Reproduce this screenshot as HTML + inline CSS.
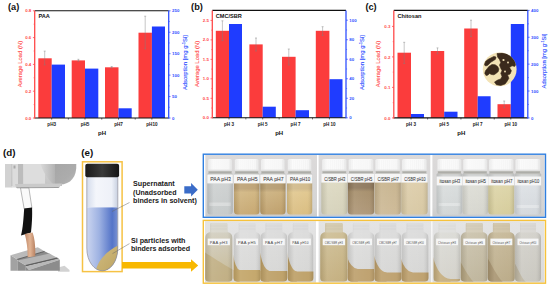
<!DOCTYPE html><html><head><meta charset="utf-8"><style>html,body{margin:0;padding:0;background:#fff;overflow:hidden}svg{display:block}</style></head><body>
<svg width="550" height="288" viewBox="0 0 550 288">
<rect width="550" height="288" fill="#fff"/>
<rect x="38.30" y="58.30" width="13.40" height="59.70" fill="#fb3c3c" />
<rect x="51.70" y="64.60" width="13.30" height="53.40" fill="#1f3cff" />
<rect x="71.70" y="60.40" width="13.30" height="57.60" fill="#fb3c3c" />
<rect x="85.00" y="68.60" width="13.30" height="49.40" fill="#1f3cff" />
<rect x="105.00" y="67.30" width="13.50" height="50.70" fill="#fb3c3c" />
<rect x="118.50" y="108.30" width="13.20" height="9.70" fill="#1f3cff" />
<rect x="138.50" y="32.70" width="13.40" height="85.30" fill="#fb3c3c" />
<rect x="151.90" y="26.50" width="13.10" height="91.50" fill="#1f3cff" />
<line x1="44.70" y1="51.10" x2="44.70" y2="64.90" stroke="#808080" stroke-width="0.45"/>
<line x1="43.70" y1="51.10" x2="45.70" y2="51.10" stroke="#808080" stroke-width="0.45"/>
<line x1="43.70" y1="64.90" x2="45.70" y2="64.90" stroke="#808080" stroke-width="0.45"/>
<line x1="78.40" y1="59.30" x2="78.40" y2="61.30" stroke="#808080" stroke-width="0.45"/>
<line x1="77.40" y1="59.30" x2="79.40" y2="59.30" stroke="#808080" stroke-width="0.45"/>
<line x1="77.40" y1="61.30" x2="79.40" y2="61.30" stroke="#808080" stroke-width="0.45"/>
<line x1="111.70" y1="66.50" x2="111.70" y2="68.00" stroke="#808080" stroke-width="0.45"/>
<line x1="110.70" y1="66.50" x2="112.70" y2="66.50" stroke="#808080" stroke-width="0.45"/>
<line x1="110.70" y1="68.00" x2="112.70" y2="68.00" stroke="#808080" stroke-width="0.45"/>
<line x1="145.20" y1="16.20" x2="145.20" y2="48.80" stroke="#808080" stroke-width="0.45"/>
<line x1="144.20" y1="16.20" x2="146.20" y2="16.20" stroke="#808080" stroke-width="0.45"/>
<line x1="144.20" y1="48.80" x2="146.20" y2="48.80" stroke="#808080" stroke-width="0.45"/>
<line x1="34.7" y1="10.8" x2="168.7" y2="10.8" stroke="#111" stroke-width="1.1"/>
<line x1="34.7" y1="118" x2="168.7" y2="118" stroke="#111" stroke-width="1.1"/>
<line x1="34.7" y1="10.8" x2="34.7" y2="118.5" stroke="#ff4a4a" stroke-width="1.3"/>
<line x1="168.7" y1="10.8" x2="168.7" y2="118.5" stroke="#3050ff" stroke-width="1.3"/>
<line x1="32.900000000000006" y1="118.00" x2="34.7" y2="118.00" stroke="#ff4a4a" stroke-width="0.8"/>
<text x="31.30" y="119.60" font-family="Liberation Sans, sans-serif" font-size="4.4" fill="#ff4a4a" text-anchor="end" font-weight="bold" >0.0</text>
<line x1="32.900000000000006" y1="91.20" x2="34.7" y2="91.20" stroke="#ff4a4a" stroke-width="0.8"/>
<text x="31.30" y="92.80" font-family="Liberation Sans, sans-serif" font-size="4.4" fill="#ff4a4a" text-anchor="end" font-weight="bold" >0.2</text>
<line x1="32.900000000000006" y1="64.40" x2="34.7" y2="64.40" stroke="#ff4a4a" stroke-width="0.8"/>
<text x="31.30" y="66.00" font-family="Liberation Sans, sans-serif" font-size="4.4" fill="#ff4a4a" text-anchor="end" font-weight="bold" >0.4</text>
<line x1="32.900000000000006" y1="37.60" x2="34.7" y2="37.60" stroke="#ff4a4a" stroke-width="0.8"/>
<text x="31.30" y="39.20" font-family="Liberation Sans, sans-serif" font-size="4.4" fill="#ff4a4a" text-anchor="end" font-weight="bold" >0.6</text>
<line x1="32.900000000000006" y1="10.80" x2="34.7" y2="10.80" stroke="#ff4a4a" stroke-width="0.8"/>
<text x="31.30" y="12.40" font-family="Liberation Sans, sans-serif" font-size="4.4" fill="#ff4a4a" text-anchor="end" font-weight="bold" >0.8</text>
<line x1="33.6" y1="104.60" x2="34.7" y2="104.60" stroke="#ff4a4a" stroke-width="0.6"/>
<line x1="33.6" y1="77.80" x2="34.7" y2="77.80" stroke="#ff4a4a" stroke-width="0.6"/>
<line x1="33.6" y1="51.00" x2="34.7" y2="51.00" stroke="#ff4a4a" stroke-width="0.6"/>
<line x1="33.6" y1="24.20" x2="34.7" y2="24.20" stroke="#ff4a4a" stroke-width="0.6"/>
<line x1="168.7" y1="107.28" x2="169.79999999999998" y2="107.28" stroke="#3050ff" stroke-width="0.6"/>
<line x1="168.7" y1="85.84" x2="169.79999999999998" y2="85.84" stroke="#3050ff" stroke-width="0.6"/>
<line x1="168.7" y1="64.40" x2="169.79999999999998" y2="64.40" stroke="#3050ff" stroke-width="0.6"/>
<line x1="168.7" y1="42.96" x2="169.79999999999998" y2="42.96" stroke="#3050ff" stroke-width="0.6"/>
<line x1="168.7" y1="21.52" x2="169.79999999999998" y2="21.52" stroke="#3050ff" stroke-width="0.6"/>
<line x1="168.7" y1="118.00" x2="170.5" y2="118.00" stroke="#3050ff" stroke-width="0.8"/>
<text x="172.00" y="119.60" font-family="Liberation Sans, sans-serif" font-size="4.4" fill="#3050ff" text-anchor="start" font-weight="bold" >0</text>
<line x1="168.7" y1="96.56" x2="170.5" y2="96.56" stroke="#3050ff" stroke-width="0.8"/>
<text x="172.00" y="98.16" font-family="Liberation Sans, sans-serif" font-size="4.4" fill="#3050ff" text-anchor="start" font-weight="bold" >50</text>
<line x1="168.7" y1="75.12" x2="170.5" y2="75.12" stroke="#3050ff" stroke-width="0.8"/>
<text x="172.00" y="76.72" font-family="Liberation Sans, sans-serif" font-size="4.4" fill="#3050ff" text-anchor="start" font-weight="bold" >100</text>
<line x1="168.7" y1="53.68" x2="170.5" y2="53.68" stroke="#3050ff" stroke-width="0.8"/>
<text x="172.00" y="55.28" font-family="Liberation Sans, sans-serif" font-size="4.4" fill="#3050ff" text-anchor="start" font-weight="bold" >150</text>
<line x1="168.7" y1="32.24" x2="170.5" y2="32.24" stroke="#3050ff" stroke-width="0.8"/>
<text x="172.00" y="33.84" font-family="Liberation Sans, sans-serif" font-size="4.4" fill="#3050ff" text-anchor="start" font-weight="bold" >200</text>
<line x1="168.7" y1="10.80" x2="170.5" y2="10.80" stroke="#3050ff" stroke-width="0.8"/>
<text x="172.00" y="12.40" font-family="Liberation Sans, sans-serif" font-size="4.4" fill="#3050ff" text-anchor="start" font-weight="bold" >250</text>
<line x1="51.70" y1="118" x2="51.70" y2="119.6" stroke="#111" stroke-width="0.6"/>
<line x1="85.00" y1="118" x2="85.00" y2="119.6" stroke="#111" stroke-width="0.6"/>
<line x1="118.50" y1="118" x2="118.50" y2="119.6" stroke="#111" stroke-width="0.6"/>
<line x1="151.90" y1="118" x2="151.90" y2="119.6" stroke="#111" stroke-width="0.6"/>
<text x="51.70" y="125.50" font-family="Liberation Sans, sans-serif" font-size="4.6" fill="#222" text-anchor="middle" font-weight="bold" >pH3</text>
<text x="85.00" y="125.50" font-family="Liberation Sans, sans-serif" font-size="4.6" fill="#222" text-anchor="middle" font-weight="bold" >pH5</text>
<text x="118.50" y="125.50" font-family="Liberation Sans, sans-serif" font-size="4.6" fill="#222" text-anchor="middle" font-weight="bold" >pH7</text>
<text x="151.90" y="125.50" font-family="Liberation Sans, sans-serif" font-size="4.6" fill="#222" text-anchor="middle" font-weight="bold" >pH10</text>
<line x1="68.35" y1="118" x2="68.35" y2="119.6" stroke="#111" stroke-width="0.6"/>
<line x1="101.75" y1="118" x2="101.75" y2="119.6" stroke="#111" stroke-width="0.6"/>
<line x1="135.20" y1="118" x2="135.20" y2="119.6" stroke="#111" stroke-width="0.6"/>
<text x="38.50" y="18.30" font-family="Liberation Sans, sans-serif" font-size="5.6" fill="#111" text-anchor="start" font-weight="bold" >PAA</text>
<text x="22.30" y="64.10" font-family="Liberation Sans, sans-serif" font-size="5.9" fill="#ff4a4a" text-anchor="middle" font-weight="normal" stroke="#ff4a4a" stroke-width="0.12" transform="rotate(-90 22.3 64.1)">Average Load (N)</text>
<text x="186.60" y="62.60" font-family="Liberation Sans, sans-serif" font-size="5.9" fill="#3050ff" text-anchor="middle" font-weight="normal" stroke="#3050ff" stroke-width="0.12" transform="rotate(-90 186.6 62.6)">Adsorption [mg g<tspan dy="-1.8" font-size="4">-1</tspan><tspan dy="1.8">Si]</tspan></text>
<text x="98.00" y="135.40" font-family="Liberation Sans, sans-serif" font-size="6.0" fill="#111" text-anchor="start" font-weight="bold" >pH</text>
<text x="8.00" y="9.50" font-family="Liberation Sans, sans-serif" font-size="9.2" fill="#111" text-anchor="start" font-weight="bold" >(a)</text>
<rect x="215.80" y="30.80" width="13.20" height="87.00" fill="#fb3c3c" />
<rect x="229.00" y="24.00" width="13.00" height="93.80" fill="#1f3cff" />
<rect x="249.40" y="44.40" width="13.30" height="73.40" fill="#fb3c3c" />
<rect x="262.70" y="106.70" width="13.10" height="11.10" fill="#1f3cff" />
<rect x="282.00" y="56.80" width="13.60" height="61.00" fill="#fb3c3c" />
<rect x="295.60" y="110.20" width="13.40" height="7.60" fill="#1f3cff" />
<rect x="315.80" y="30.80" width="13.60" height="87.00" fill="#fb3c3c" />
<rect x="329.40" y="79.20" width="13.10" height="38.60" fill="#1f3cff" />
<line x1="222.40" y1="20.80" x2="222.40" y2="40.60" stroke="#808080" stroke-width="0.45"/>
<line x1="221.40" y1="20.80" x2="223.40" y2="20.80" stroke="#808080" stroke-width="0.45"/>
<line x1="221.40" y1="40.60" x2="223.40" y2="40.60" stroke="#808080" stroke-width="0.45"/>
<line x1="256.00" y1="38.00" x2="256.00" y2="51.00" stroke="#808080" stroke-width="0.45"/>
<line x1="255.00" y1="38.00" x2="257.00" y2="38.00" stroke="#808080" stroke-width="0.45"/>
<line x1="255.00" y1="51.00" x2="257.00" y2="51.00" stroke="#808080" stroke-width="0.45"/>
<line x1="288.80" y1="49.00" x2="288.80" y2="65.00" stroke="#808080" stroke-width="0.45"/>
<line x1="287.80" y1="49.00" x2="289.80" y2="49.00" stroke="#808080" stroke-width="0.45"/>
<line x1="287.80" y1="65.00" x2="289.80" y2="65.00" stroke="#808080" stroke-width="0.45"/>
<line x1="322.60" y1="26.70" x2="322.60" y2="35.40" stroke="#808080" stroke-width="0.45"/>
<line x1="321.60" y1="26.70" x2="323.60" y2="26.70" stroke="#808080" stroke-width="0.45"/>
<line x1="321.60" y1="35.40" x2="323.60" y2="35.40" stroke="#808080" stroke-width="0.45"/>
<line x1="212.3" y1="10.4" x2="346" y2="10.4" stroke="#111" stroke-width="1.1"/>
<line x1="212.3" y1="117.8" x2="346" y2="117.8" stroke="#111" stroke-width="1.1"/>
<line x1="212.3" y1="10.4" x2="212.3" y2="118.3" stroke="#ff4a4a" stroke-width="1.3"/>
<line x1="346" y1="10.4" x2="346" y2="118.3" stroke="#3050ff" stroke-width="1.3"/>
<line x1="210.5" y1="117.80" x2="212.3" y2="117.80" stroke="#ff4a4a" stroke-width="0.8"/>
<text x="208.90" y="119.40" font-family="Liberation Sans, sans-serif" font-size="4.4" fill="#ff4a4a" text-anchor="end" font-weight="bold" >0.0</text>
<line x1="210.5" y1="98.32" x2="212.3" y2="98.32" stroke="#ff4a4a" stroke-width="0.8"/>
<text x="208.90" y="99.92" font-family="Liberation Sans, sans-serif" font-size="4.4" fill="#ff4a4a" text-anchor="end" font-weight="bold" >0.5</text>
<line x1="210.5" y1="78.84" x2="212.3" y2="78.84" stroke="#ff4a4a" stroke-width="0.8"/>
<text x="208.90" y="80.44" font-family="Liberation Sans, sans-serif" font-size="4.4" fill="#ff4a4a" text-anchor="end" font-weight="bold" >1.0</text>
<line x1="210.5" y1="59.36" x2="212.3" y2="59.36" stroke="#ff4a4a" stroke-width="0.8"/>
<text x="208.90" y="60.96" font-family="Liberation Sans, sans-serif" font-size="4.4" fill="#ff4a4a" text-anchor="end" font-weight="bold" >1.5</text>
<line x1="210.5" y1="39.88" x2="212.3" y2="39.88" stroke="#ff4a4a" stroke-width="0.8"/>
<text x="208.90" y="41.48" font-family="Liberation Sans, sans-serif" font-size="4.4" fill="#ff4a4a" text-anchor="end" font-weight="bold" >2.0</text>
<line x1="210.5" y1="20.40" x2="212.3" y2="20.40" stroke="#ff4a4a" stroke-width="0.8"/>
<text x="208.90" y="22.00" font-family="Liberation Sans, sans-serif" font-size="4.4" fill="#ff4a4a" text-anchor="end" font-weight="bold" >2.5</text>
<line x1="211.20000000000002" y1="108.06" x2="212.3" y2="108.06" stroke="#ff4a4a" stroke-width="0.6"/>
<line x1="211.20000000000002" y1="88.58" x2="212.3" y2="88.58" stroke="#ff4a4a" stroke-width="0.6"/>
<line x1="211.20000000000002" y1="69.10" x2="212.3" y2="69.10" stroke="#ff4a4a" stroke-width="0.6"/>
<line x1="211.20000000000002" y1="49.62" x2="212.3" y2="49.62" stroke="#ff4a4a" stroke-width="0.6"/>
<line x1="211.20000000000002" y1="30.14" x2="212.3" y2="30.14" stroke="#ff4a4a" stroke-width="0.6"/>
<line x1="346" y1="108.04" x2="347.1" y2="108.04" stroke="#3050ff" stroke-width="0.6"/>
<line x1="346" y1="88.52" x2="347.1" y2="88.52" stroke="#3050ff" stroke-width="0.6"/>
<line x1="346" y1="69.00" x2="347.1" y2="69.00" stroke="#3050ff" stroke-width="0.6"/>
<line x1="346" y1="49.48" x2="347.1" y2="49.48" stroke="#3050ff" stroke-width="0.6"/>
<line x1="346" y1="29.96" x2="347.1" y2="29.96" stroke="#3050ff" stroke-width="0.6"/>
<line x1="346" y1="117.80" x2="347.8" y2="117.80" stroke="#3050ff" stroke-width="0.8"/>
<text x="349.30" y="119.40" font-family="Liberation Sans, sans-serif" font-size="4.4" fill="#3050ff" text-anchor="start" font-weight="bold" >0</text>
<line x1="346" y1="98.28" x2="347.8" y2="98.28" stroke="#3050ff" stroke-width="0.8"/>
<text x="349.30" y="99.88" font-family="Liberation Sans, sans-serif" font-size="4.4" fill="#3050ff" text-anchor="start" font-weight="bold" >20</text>
<line x1="346" y1="78.76" x2="347.8" y2="78.76" stroke="#3050ff" stroke-width="0.8"/>
<text x="349.30" y="80.36" font-family="Liberation Sans, sans-serif" font-size="4.4" fill="#3050ff" text-anchor="start" font-weight="bold" >40</text>
<line x1="346" y1="59.24" x2="347.8" y2="59.24" stroke="#3050ff" stroke-width="0.8"/>
<text x="349.30" y="60.84" font-family="Liberation Sans, sans-serif" font-size="4.4" fill="#3050ff" text-anchor="start" font-weight="bold" >60</text>
<line x1="346" y1="39.72" x2="347.8" y2="39.72" stroke="#3050ff" stroke-width="0.8"/>
<text x="349.30" y="41.32" font-family="Liberation Sans, sans-serif" font-size="4.4" fill="#3050ff" text-anchor="start" font-weight="bold" >80</text>
<line x1="346" y1="20.20" x2="347.8" y2="20.20" stroke="#3050ff" stroke-width="0.8"/>
<text x="349.30" y="21.80" font-family="Liberation Sans, sans-serif" font-size="4.4" fill="#3050ff" text-anchor="start" font-weight="bold" >100</text>
<line x1="229.00" y1="117.8" x2="229.00" y2="119.39999999999999" stroke="#111" stroke-width="0.6"/>
<line x1="262.70" y1="117.8" x2="262.70" y2="119.39999999999999" stroke="#111" stroke-width="0.6"/>
<line x1="295.60" y1="117.8" x2="295.60" y2="119.39999999999999" stroke="#111" stroke-width="0.6"/>
<line x1="329.40" y1="117.8" x2="329.40" y2="119.39999999999999" stroke="#111" stroke-width="0.6"/>
<text x="229.00" y="125.50" font-family="Liberation Sans, sans-serif" font-size="4.6" fill="#222" text-anchor="middle" font-weight="bold" >pH 3</text>
<text x="262.70" y="125.50" font-family="Liberation Sans, sans-serif" font-size="4.6" fill="#222" text-anchor="middle" font-weight="bold" >pH 5</text>
<text x="295.60" y="125.50" font-family="Liberation Sans, sans-serif" font-size="4.6" fill="#222" text-anchor="middle" font-weight="bold" >pH 7</text>
<text x="329.40" y="125.50" font-family="Liberation Sans, sans-serif" font-size="4.6" fill="#222" text-anchor="middle" font-weight="bold" >pH 10</text>
<line x1="245.85" y1="117.8" x2="245.85" y2="119.39999999999999" stroke="#111" stroke-width="0.6"/>
<line x1="279.15" y1="117.8" x2="279.15" y2="119.39999999999999" stroke="#111" stroke-width="0.6"/>
<line x1="312.50" y1="117.8" x2="312.50" y2="119.39999999999999" stroke="#111" stroke-width="0.6"/>
<text x="215.80" y="18.30" font-family="Liberation Sans, sans-serif" font-size="5.6" fill="#111" text-anchor="start" font-weight="bold" >CMC/SBR</text>
<text x="199.30" y="63.90" font-family="Liberation Sans, sans-serif" font-size="5.9" fill="#ff4a4a" text-anchor="middle" font-weight="normal" stroke="#ff4a4a" stroke-width="0.12" transform="rotate(-90 199.3 63.9)">Average Load (N)</text>
<text x="363.80" y="62.60" font-family="Liberation Sans, sans-serif" font-size="5.9" fill="#3050ff" text-anchor="middle" font-weight="normal" stroke="#3050ff" stroke-width="0.12" transform="rotate(-90 363.8 62.6)">Adsorption [mg g<tspan dy="-1.8" font-size="4">-1</tspan><tspan dy="1.8">Si]</tspan></text>
<text x="275.20" y="135.40" font-family="Liberation Sans, sans-serif" font-size="6.0" fill="#111" text-anchor="start" font-weight="bold" >pH</text>
<text x="191.10" y="9.50" font-family="Liberation Sans, sans-serif" font-size="9.2" fill="#111" text-anchor="start" font-weight="bold" >(b)</text>
<rect x="397.50" y="52.70" width="13.50" height="65.20" fill="#fb3c3c" />
<rect x="411.00" y="114.00" width="13.00" height="3.90" fill="#1f3cff" />
<rect x="430.80" y="51.00" width="13.40" height="66.90" fill="#fb3c3c" />
<rect x="444.20" y="111.70" width="13.30" height="6.20" fill="#1f3cff" />
<rect x="464.20" y="28.50" width="13.50" height="89.40" fill="#fb3c3c" />
<rect x="477.70" y="96.25" width="12.90" height="21.65" fill="#1f3cff" />
<rect x="497.50" y="104.20" width="13.30" height="13.70" fill="#fb3c3c" />
<rect x="510.80" y="24.00" width="13.40" height="93.90" fill="#1f3cff" />
<line x1="404.20" y1="42.30" x2="404.20" y2="63.50" stroke="#808080" stroke-width="0.45"/>
<line x1="403.20" y1="42.30" x2="405.20" y2="42.30" stroke="#808080" stroke-width="0.45"/>
<line x1="403.20" y1="63.50" x2="405.20" y2="63.50" stroke="#808080" stroke-width="0.45"/>
<line x1="437.50" y1="47.90" x2="437.50" y2="53.75" stroke="#808080" stroke-width="0.45"/>
<line x1="436.50" y1="47.90" x2="438.50" y2="47.90" stroke="#808080" stroke-width="0.45"/>
<line x1="436.50" y1="53.75" x2="438.50" y2="53.75" stroke="#808080" stroke-width="0.45"/>
<line x1="471.00" y1="20.20" x2="471.00" y2="36.50" stroke="#808080" stroke-width="0.45"/>
<line x1="470.00" y1="20.20" x2="472.00" y2="20.20" stroke="#808080" stroke-width="0.45"/>
<line x1="470.00" y1="36.50" x2="472.00" y2="36.50" stroke="#808080" stroke-width="0.45"/>
<line x1="504.20" y1="101.00" x2="504.20" y2="107.70" stroke="#808080" stroke-width="0.45"/>
<line x1="503.20" y1="101.00" x2="505.20" y2="101.00" stroke="#808080" stroke-width="0.45"/>
<line x1="503.20" y1="107.70" x2="505.20" y2="107.70" stroke="#808080" stroke-width="0.45"/>
<line x1="393.8" y1="10.4" x2="527.8" y2="10.4" stroke="#111" stroke-width="1.1"/>
<line x1="393.8" y1="117.9" x2="527.8" y2="117.9" stroke="#111" stroke-width="1.1"/>
<line x1="393.8" y1="10.4" x2="393.8" y2="118.4" stroke="#ff4a4a" stroke-width="1.3"/>
<line x1="527.8" y1="10.4" x2="527.8" y2="118.4" stroke="#3050ff" stroke-width="1.3"/>
<line x1="392.0" y1="117.90" x2="393.8" y2="117.90" stroke="#ff4a4a" stroke-width="0.8"/>
<text x="390.40" y="119.50" font-family="Liberation Sans, sans-serif" font-size="4.4" fill="#ff4a4a" text-anchor="end" font-weight="bold" >0.0</text>
<line x1="392.0" y1="87.40" x2="393.8" y2="87.40" stroke="#ff4a4a" stroke-width="0.8"/>
<text x="390.40" y="89.00" font-family="Liberation Sans, sans-serif" font-size="4.4" fill="#ff4a4a" text-anchor="end" font-weight="bold" >0.1</text>
<line x1="392.0" y1="56.90" x2="393.8" y2="56.90" stroke="#ff4a4a" stroke-width="0.8"/>
<text x="390.40" y="58.50" font-family="Liberation Sans, sans-serif" font-size="4.4" fill="#ff4a4a" text-anchor="end" font-weight="bold" >0.2</text>
<line x1="392.0" y1="26.40" x2="393.8" y2="26.40" stroke="#ff4a4a" stroke-width="0.8"/>
<text x="390.40" y="28.00" font-family="Liberation Sans, sans-serif" font-size="4.4" fill="#ff4a4a" text-anchor="end" font-weight="bold" >0.3</text>
<line x1="392.7" y1="102.65" x2="393.8" y2="102.65" stroke="#ff4a4a" stroke-width="0.6"/>
<line x1="392.7" y1="72.15" x2="393.8" y2="72.15" stroke="#ff4a4a" stroke-width="0.6"/>
<line x1="392.7" y1="41.65" x2="393.8" y2="41.65" stroke="#ff4a4a" stroke-width="0.6"/>
<line x1="527.8" y1="104.46" x2="528.9" y2="104.46" stroke="#3050ff" stroke-width="0.6"/>
<line x1="527.8" y1="77.59" x2="528.9" y2="77.59" stroke="#3050ff" stroke-width="0.6"/>
<line x1="527.8" y1="50.71" x2="528.9" y2="50.71" stroke="#3050ff" stroke-width="0.6"/>
<line x1="527.8" y1="23.84" x2="528.9" y2="23.84" stroke="#3050ff" stroke-width="0.6"/>
<line x1="527.8" y1="117.90" x2="529.5999999999999" y2="117.90" stroke="#3050ff" stroke-width="0.8"/>
<text x="531.10" y="119.50" font-family="Liberation Sans, sans-serif" font-size="4.4" fill="#3050ff" text-anchor="start" font-weight="bold" >0</text>
<line x1="527.8" y1="91.03" x2="529.5999999999999" y2="91.03" stroke="#3050ff" stroke-width="0.8"/>
<text x="531.10" y="92.62" font-family="Liberation Sans, sans-serif" font-size="4.4" fill="#3050ff" text-anchor="start" font-weight="bold" >100</text>
<line x1="527.8" y1="64.15" x2="529.5999999999999" y2="64.15" stroke="#3050ff" stroke-width="0.8"/>
<text x="531.10" y="65.75" font-family="Liberation Sans, sans-serif" font-size="4.4" fill="#3050ff" text-anchor="start" font-weight="bold" >200</text>
<line x1="527.8" y1="37.28" x2="529.5999999999999" y2="37.28" stroke="#3050ff" stroke-width="0.8"/>
<text x="531.10" y="38.88" font-family="Liberation Sans, sans-serif" font-size="4.4" fill="#3050ff" text-anchor="start" font-weight="bold" >300</text>
<line x1="527.8" y1="10.40" x2="529.5999999999999" y2="10.40" stroke="#3050ff" stroke-width="0.8"/>
<text x="531.10" y="12.00" font-family="Liberation Sans, sans-serif" font-size="4.4" fill="#3050ff" text-anchor="start" font-weight="bold" >400</text>
<line x1="411.00" y1="117.9" x2="411.00" y2="119.5" stroke="#111" stroke-width="0.6"/>
<line x1="444.20" y1="117.9" x2="444.20" y2="119.5" stroke="#111" stroke-width="0.6"/>
<line x1="477.70" y1="117.9" x2="477.70" y2="119.5" stroke="#111" stroke-width="0.6"/>
<line x1="510.80" y1="117.9" x2="510.80" y2="119.5" stroke="#111" stroke-width="0.6"/>
<text x="411.00" y="125.50" font-family="Liberation Sans, sans-serif" font-size="4.6" fill="#222" text-anchor="middle" font-weight="bold" >pH 3</text>
<text x="444.20" y="125.50" font-family="Liberation Sans, sans-serif" font-size="4.6" fill="#222" text-anchor="middle" font-weight="bold" >pH 5</text>
<text x="477.70" y="125.50" font-family="Liberation Sans, sans-serif" font-size="4.6" fill="#222" text-anchor="middle" font-weight="bold" >pH 7</text>
<text x="510.80" y="125.50" font-family="Liberation Sans, sans-serif" font-size="4.6" fill="#222" text-anchor="middle" font-weight="bold" >pH 10</text>
<line x1="427.60" y1="117.9" x2="427.60" y2="119.5" stroke="#111" stroke-width="0.6"/>
<line x1="460.95" y1="117.9" x2="460.95" y2="119.5" stroke="#111" stroke-width="0.6"/>
<line x1="494.25" y1="117.9" x2="494.25" y2="119.5" stroke="#111" stroke-width="0.6"/>
<text x="397.50" y="18.30" font-family="Liberation Sans, sans-serif" font-size="5.6" fill="#111" text-anchor="start" font-weight="bold" >Chitosan</text>
<text x="380.40" y="64.00" font-family="Liberation Sans, sans-serif" font-size="5.9" fill="#ff4a4a" text-anchor="middle" font-weight="normal" stroke="#ff4a4a" stroke-width="0.12" transform="rotate(-90 380.4 64)">Average Load (N)</text>
<text x="545.80" y="61.00" font-family="Liberation Sans, sans-serif" font-size="5.9" fill="#3050ff" text-anchor="middle" font-weight="normal" stroke="#3050ff" stroke-width="0.12" transform="rotate(-90 545.8 61)">Adsorption [mg g<tspan dy="-1.8" font-size="4">-1</tspan><tspan dy="1.8">Si]</tspan></text>
<text x="457.30" y="135.40" font-family="Liberation Sans, sans-serif" font-size="6.0" fill="#111" text-anchor="start" font-weight="bold" >pH</text>
<text x="365.40" y="9.50" font-family="Liberation Sans, sans-serif" font-size="9.2" fill="#111" text-anchor="start" font-weight="bold" >(c)</text>
<clipPath id="cSem"><circle cx="499.7" cy="69.3" r="16.9"/></clipPath>
<circle cx="499.7" cy="69.3" r="16.9" fill="#f3e3b6"/>
<g clip-path="url(#cSem)" fill="#3b2a1c">
<path d="M484.5,64.5 L485.5,61.4 L488.25,59.25 L490.75,58 L493.9,56.4 L496,57 L495.5,59.25 L493.25,60.75 L490.75,62.25 L488.9,64.25 L487,65.75 L485.1,65.75 Z" stroke="#3b2a1c" stroke-width="0.6" stroke-linejoin="round"/>
<path d="M487,68.9 L488.9,66.4 L492,64.5 L495.1,64.75 L497.6,66.4 L498.9,68.9 L498.25,71.4 L496.4,73.25 L493.9,74.75 L491.4,74.5 L489.5,73.5 L488,75.1 L486,75.5 L484.75,73.25 L485.5,70.75 Z" stroke="#3b2a1c" stroke-width="0.6" stroke-linejoin="round"/>
<path d="M497,53.5 L502,53 L507.6,53.9 L512,56.4 L514.75,60.75 L515.75,64.5 L514.75,66.4 L512,65.75 L509.5,67.6 L511.4,70.75 L510.1,73.9 L507.6,75.1 L508.9,78.25 L507,81.4 L505.1,83.9 L500.75,85.5 L496.4,84.75 L494.5,82 L497.6,80.1 L500.75,78.9 L502,76.4 L500.75,73.25 L502,70.75 L500.75,68.25 L499.5,65.1 L500.75,62.6 L499.5,59.5 L497.6,57 Z" stroke="#3b2a1c" stroke-width="0.6" stroke-linejoin="round"/>
<circle cx="503.5" cy="60" r="1.1" fill="#f3e3b6"/><circle cx="508" cy="62.5" r="0.9" fill="#f3e3b6"/><circle cx="505" cy="71.5" r="0.9" fill="#f3e3b6"/>
</g>
<defs><linearGradient id="gCap" x1="0" y1="0" x2="1" y2="0"><stop offset="0" stop-color="#1a1a1a"/><stop offset="0.5" stop-color="#3a3a3a"/><stop offset="1" stop-color="#151515"/></linearGradient><linearGradient id="gEmpty" x1="0" y1="0" x2="1" y2="0"><stop offset="0" stop-color="#d4dcec"/><stop offset="0.3" stop-color="#f4f6fb"/><stop offset="0.8" stop-color="#eef1f8"/><stop offset="1" stop-color="#c8d0e0"/></linearGradient><linearGradient id="gLiq" x1="0" y1="0" x2="1" y2="0"><stop offset="0" stop-color="#ccd6f0"/><stop offset="0.4" stop-color="#9eb2e2"/><stop offset="0.82" stop-color="#5474c8"/><stop offset="1" stop-color="#7a92d2"/></linearGradient><linearGradient id="gCu" x1="0" y1="0" x2="1" y2="0"><stop offset="0" stop-color="#c08868"/><stop offset="0.5" stop-color="#e2b494"/><stop offset="1" stop-color="#b88262"/></linearGradient><linearGradient id="gDev" x1="0" y1="0" x2="0" y2="1"><stop offset="0" stop-color="#d6d6d6"/><stop offset="1" stop-color="#c4c4c4"/></linearGradient><linearGradient id="gEnd" x1="0" y1="0" x2="1" y2="1"><stop offset="0" stop-color="#a6a6a6"/><stop offset="0.6" stop-color="#acacac"/><stop offset="1" stop-color="#b8b8b8"/></linearGradient><linearGradient id="gCyl" x1="0" y1="0" x2="1" y2="0"><stop offset="0" stop-color="#d8d8d8"/><stop offset="1" stop-color="#b2b2b2"/></linearGradient><linearGradient id="gSed" x1="0" y1="0" x2="1" y2="1"><stop offset="0" stop-color="#d2bc80"/><stop offset="1" stop-color="#bca462"/></linearGradient><clipPath id="cTube"><path d="M86.8,177 L117.8,177 L117.8,248 C117.8,262 110,270.8 102.3,270.8 C94.6,270.8 86.8,262 86.8,248 Z"/></clipPath></defs>
<text x="2.90" y="155.80" font-family="Liberation Sans, sans-serif" font-size="9.8" fill="#111" text-anchor="start" font-weight="bold" >(d)</text>
<text x="81.30" y="155.80" font-family="Liberation Sans, sans-serif" font-size="9.8" fill="#111" text-anchor="start" font-weight="bold" >(e)</text>
<path d="M5,164 L62,164 L62,186 L5,186 Z" fill="url(#gDev)"/>
<rect x="5.00" y="164.00" width="6.60" height="23.50" fill="#d2d2d2" />
<rect x="11.60" y="164.00" width="0.80" height="23.50" fill="#b8b8b8" />
<rect x="12.40" y="164.00" width="5.60" height="23.50" fill="#dcdcdc" />
<rect x="18.00" y="164.00" width="5.20" height="22.00" fill="#bcbcbc" />
<rect x="23.20" y="164.00" width="21.80" height="22.00" fill="#dddddd" />
<rect x="13.5" y="165.5" width="2" height="3" fill="#a8a8a8"/>
<path d="M40.7,164 L55.2,164 L55.2,184.6 L53.5,184.6 C47.5,179 42.5,171 40.7,164 Z" fill="url(#gCyl)"/>
<path d="M55,164 L76.3,164 C77,177 70.5,184.3 60,184.6 L55,184.6 Z" fill="url(#gEnd)"/>
<path d="M24,184.2 L53.5,184.4 L60,184.6 L57,186.6 L24,186.6 Z" fill="#a4a4a4"/>
<path d="M15,184 L62,183.6 L59.5,187.2 L16,187.4 Z" fill="#cacaca"/>
<path d="M16,187.2 L59.5,187 L58.5,188 L17,188.2 Z" fill="#9c9c9c"/>
<path d="M58,267.5 L64.5,265.8 L69.5,270 L69.5,271.8 L58,271.8 Z" fill="#d2d2d2"/>
<path d="M10.5,255.2 L37.8,247.3 L44.5,251.2 L17.2,259.2 Z" fill="#bababa"/>
<path d="M17.2,259.2 L44.5,251.2 L50,254 L51,256 L18,261 Z" fill="#8a8a8a"/>
<path d="M17.6,260.4 L49.5,253.6 L57.2,257.8 L25.5,265.3 Z" fill="#b4b4b4"/>
<path d="M25.5,265.3 L57.2,257.8 L59,259 L26,266.5 Z" fill="#6a6a6a"/>
<path d="M26,266.3 L58.5,258.6 L59.8,259.8 L29,269.9 Z" fill="#b8b8b8"/>
<path d="M10.5,255.2 L17.4,259.4 L17.4,270.8 L10.5,270.8 Z" fill="#a2a2a2"/>
<path d="M17.4,260.4 L25.8,265.6 L25.8,270.8 L17.4,270.8 Z" fill="#8c8c8c"/>
<path d="M25.8,266.4 L29,269.9 L29,270.8 L25.8,270.8 Z" fill="#8a8a8a"/>
<path d="M29,269.9 L59.8,259.8 L59.8,270.8 L29,270.8 Z" fill="#8c8c8c"/>
<line x1="17.2" y1="259.4" x2="44.5" y2="251.4" stroke="#5a5a5a" stroke-width="0.9"/>
<line x1="25.6" y1="265.5" x2="57.2" y2="258" stroke="#5a5a5a" stroke-width="0.9"/>
<path d="M20.5,188 L28.9,188 L32,208.5 L24.2,209 Z" fill="#fafafa" stroke="#8a8a8a" stroke-width="0.6"/>
<path d="M24.2,208.5 L32,207.5 C32.5,215 31.8,226 31,232.5 L21,235.5 C23,228 23.5,218 24.2,208.5 Z" fill="#111"/>
<path d="M24.8,234 L32.6,232.4 C35,239 35.6,248 35.2,256.2 L27.6,257.2 C27.8,249 26.6,241 24.8,234 Z" fill="url(#gCu)"/>
<rect x="82.5" y="161.8" width="39.6" height="109.8" fill="none" stroke="#f6c244" stroke-width="1.5"/>
<g clip-path="url(#cTube)">
<rect x="86.80" y="177.00" width="31.00" height="30.40" fill="url(#gEmpty)" />
<rect x="86.80" y="207.40" width="31.00" height="64.60" fill="url(#gLiq)" />
<path d="M95.5,271.5 C97.5,261 106,251.5 118.5,245.3 L118.5,272 Z" fill="url(#gSed)"/>
</g>
<path d="M86.8,177 L86.8,248 C86.8,262 94.6,270.8 102.3,270.8 C110,270.8 117.8,262 117.8,248 L117.8,177" fill="none" stroke="#8c8c98" stroke-width="0.7"/>
<rect x="85.3" y="163.8" width="33.8" height="13.4" rx="2" fill="url(#gCap)"/>
<line x1="112" y1="211.5" x2="129.5" y2="202.5" stroke="#666" stroke-width="0.5"/>
<line x1="112.5" y1="253.6" x2="129.5" y2="243.6" stroke="#666" stroke-width="0.5"/>
<text x="133.10" y="186.30" font-family="Liberation Sans, sans-serif" font-size="6.7" fill="#1a1a1a" text-anchor="start" font-weight="bold" textLength="41.6" lengthAdjust="spacingAndGlyphs">Supernatant</text>
<text x="133.10" y="194.55" font-family="Liberation Sans, sans-serif" font-size="6.7" fill="#1a1a1a" text-anchor="start" font-weight="bold" textLength="43.4" lengthAdjust="spacingAndGlyphs">(Unadsorbed</text>
<text x="133.10" y="202.80" font-family="Liberation Sans, sans-serif" font-size="6.7" fill="#1a1a1a" text-anchor="start" font-weight="bold" textLength="63.8" lengthAdjust="spacingAndGlyphs">binders in solvent)</text>
<text x="130.90" y="242.90" font-family="Liberation Sans, sans-serif" font-size="6.7" fill="#1a1a1a" text-anchor="start" font-weight="bold" textLength="54.6" lengthAdjust="spacingAndGlyphs">Si particles with</text>
<text x="130.90" y="251.20" font-family="Liberation Sans, sans-serif" font-size="6.7" fill="#1a1a1a" text-anchor="start" font-weight="bold" textLength="59.2" lengthAdjust="spacingAndGlyphs">binders adsorbed</text>
<path d="M184.3,186.3 L191.1,186.3 L191.1,182.9 L197.8,189.7 L191.1,196.5 L191.1,193.6 L184.3,193.6 Z" fill="#3a6cc8"/>
<path d="M122,261.9 L191,261.9 L191,259.2 L198.2,265.4 L191,271.8 L191,268.5 L122,268.5 Z" fill="#f8b800"/>
<defs><linearGradient id="gCapT" x1="0" y1="0" x2="1" y2="0"><stop offset="0" stop-color="#ececec"/><stop offset="0.2" stop-color="#fbfbfb"/><stop offset="0.85" stop-color="#f8f8f8"/><stop offset="1" stop-color="#e4e4e4"/></linearGradient><linearGradient id="gGlass" x1="0" y1="0" x2="1" y2="0"><stop offset="0" stop-color="#000" stop-opacity="0.10"/><stop offset="0.25" stop-color="#fff" stop-opacity="0.10"/><stop offset="0.8" stop-color="#fff" stop-opacity="0.05"/><stop offset="1" stop-color="#000" stop-opacity="0.12"/></linearGradient><linearGradient id="gBgT" x1="0" y1="0" x2="0" y2="1"><stop offset="0" stop-color="#dcdada"/><stop offset="0.85" stop-color="#d4d4d4"/><stop offset="1" stop-color="#cccccc"/></linearGradient><linearGradient id="gBgB" x1="0" y1="0" x2="0" y2="1"><stop offset="0" stop-color="#e4e4e4"/><stop offset="1" stop-color="#dadada"/></linearGradient></defs>
<rect x="204.50" y="155.00" width="340.70" height="61.70" fill="#ffffff" />
<rect x="205.30" y="155.00" width="111.70" height="61.60" fill="url(#gBgT)" />
<rect x="318.60" y="155.00" width="111.70" height="61.60" fill="url(#gBgT)" />
<rect x="432.40" y="155.00" width="112.20" height="61.60" fill="url(#gBgT)" />
<path d="M208.8,169.8 L231.3,169.8 L231.3,173 L232.8,174 L232.8,211 Q232.8,214.5 229.3,214.5 L210.8,214.5 Q207.3,214.5 207.3,211 L207.3,174 L208.8,173 Z" fill="#cfd1d1"/>
<linearGradient id="gl207" x1="0" y1="0" x2="0" y2="1"><stop offset="0" stop-color="#cdd0d0"/><stop offset="1" stop-color="#c4c8c8"/></linearGradient>
<path d="M207.3,183 L232.8,183 L232.8,211 Q232.8,214.5 229.3,214.5 L210.8,214.5 Q207.3,214.5 207.3,211 Z" fill="url(#gl207)"/>
<rect x="209.3" y="202.5" width="21.5" height="3.5" fill="#fff" fill-opacity="0.3"/>
<path d="M208.8,169.8 L231.3,169.8 L231.3,173 L232.8,174 L232.8,211 Q232.8,214.5 229.3,214.5 L210.8,214.5 Q207.3,214.5 207.3,211 L207.3,174 L208.8,173 Z" fill="url(#gGlass)"/>
<rect x="208.5" y="170.6" width="23.1" height="3.6" fill="#bdbdb8"/>
<line x1="208.8" y1="172.4" x2="231.3" y2="172.4" stroke="#9a9a96" stroke-width="0.5"/>
<rect x="208.1" y="159" width="23.9" height="12" rx="1.6" fill="url(#gCapT)"/>
<line x1="210.1" y1="160" x2="210.1" y2="170" stroke="#000" stroke-opacity="0.022" stroke-width="0.7"/>
<line x1="212.1" y1="160" x2="212.1" y2="170" stroke="#000" stroke-opacity="0.022" stroke-width="0.7"/>
<line x1="214.1" y1="160" x2="214.1" y2="170" stroke="#000" stroke-opacity="0.022" stroke-width="0.7"/>
<line x1="216.1" y1="160" x2="216.1" y2="170" stroke="#000" stroke-opacity="0.022" stroke-width="0.7"/>
<line x1="218.1" y1="160" x2="218.1" y2="170" stroke="#000" stroke-opacity="0.022" stroke-width="0.7"/>
<line x1="220.1" y1="160" x2="220.1" y2="170" stroke="#000" stroke-opacity="0.022" stroke-width="0.7"/>
<line x1="222.0" y1="160" x2="222.0" y2="170" stroke="#000" stroke-opacity="0.022" stroke-width="0.7"/>
<line x1="224.0" y1="160" x2="224.0" y2="170" stroke="#000" stroke-opacity="0.022" stroke-width="0.7"/>
<line x1="226.0" y1="160" x2="226.0" y2="170" stroke="#000" stroke-opacity="0.022" stroke-width="0.7"/>
<line x1="228.0" y1="160" x2="228.0" y2="170" stroke="#000" stroke-opacity="0.022" stroke-width="0.7"/>
<line x1="230.0" y1="160" x2="230.0" y2="170" stroke="#000" stroke-opacity="0.022" stroke-width="0.7"/>
<rect x="208.10" y="169.60" width="23.90" height="1.40" fill="#e0e0e0" />
<rect x="207.30" y="174.50" width="25.50" height="8.90" fill="#f6f6f6" />
<text x="220.55" y="181.30" font-family="Liberation Sans, sans-serif" font-size="6.0" fill="#333" text-anchor="middle" font-weight="normal" stroke="#333" stroke-width="0.05" textLength="20.5" lengthAdjust="spacingAndGlyphs">PAA pH3</text>
<path d="M235.5,169.8 L258.0,169.8 L258.0,173 L259.5,174 L259.5,211 Q259.5,214.5 256.0,214.5 L237.5,214.5 Q234.0,214.5 234.0,211 L234.0,174 L235.5,173 Z" fill="#cfd1d1"/>
<linearGradient id="gl234" x1="0" y1="0" x2="0" y2="1"><stop offset="0" stop-color="#bca072"/><stop offset="0.18" stop-color="#bca072"/><stop offset="0.3" stop-color="#d0b47e"/><stop offset="1" stop-color="#c4a46c"/></linearGradient>
<path d="M234.0,183 L259.5,183 L259.5,211 Q259.5,214.5 256.0,214.5 L237.5,214.5 Q234.0,214.5 234.0,211 Z" fill="url(#gl234)"/>
<path d="M235.5,169.8 L258.0,169.8 L258.0,173 L259.5,174 L259.5,211 Q259.5,214.5 256.0,214.5 L237.5,214.5 Q234.0,214.5 234.0,211 L234.0,174 L235.5,173 Z" fill="url(#gGlass)"/>
<rect x="235.2" y="170.6" width="23.1" height="3.6" fill="#bdbdb8"/>
<line x1="235.5" y1="172.4" x2="258.0" y2="172.4" stroke="#9a9a96" stroke-width="0.5"/>
<rect x="234.8" y="159" width="23.9" height="12" rx="1.6" fill="url(#gCapT)"/>
<line x1="236.8" y1="160" x2="236.8" y2="170" stroke="#000" stroke-opacity="0.022" stroke-width="0.7"/>
<line x1="238.8" y1="160" x2="238.8" y2="170" stroke="#000" stroke-opacity="0.022" stroke-width="0.7"/>
<line x1="240.8" y1="160" x2="240.8" y2="170" stroke="#000" stroke-opacity="0.022" stroke-width="0.7"/>
<line x1="242.8" y1="160" x2="242.8" y2="170" stroke="#000" stroke-opacity="0.022" stroke-width="0.7"/>
<line x1="244.8" y1="160" x2="244.8" y2="170" stroke="#000" stroke-opacity="0.022" stroke-width="0.7"/>
<line x1="246.8" y1="160" x2="246.8" y2="170" stroke="#000" stroke-opacity="0.022" stroke-width="0.7"/>
<line x1="248.7" y1="160" x2="248.7" y2="170" stroke="#000" stroke-opacity="0.022" stroke-width="0.7"/>
<line x1="250.7" y1="160" x2="250.7" y2="170" stroke="#000" stroke-opacity="0.022" stroke-width="0.7"/>
<line x1="252.7" y1="160" x2="252.7" y2="170" stroke="#000" stroke-opacity="0.022" stroke-width="0.7"/>
<line x1="254.7" y1="160" x2="254.7" y2="170" stroke="#000" stroke-opacity="0.022" stroke-width="0.7"/>
<line x1="256.7" y1="160" x2="256.7" y2="170" stroke="#000" stroke-opacity="0.022" stroke-width="0.7"/>
<rect x="234.80" y="169.60" width="23.90" height="1.40" fill="#e0e0e0" />
<rect x="234.00" y="174.50" width="25.50" height="8.90" fill="#f6f6f6" />
<text x="247.25" y="181.30" font-family="Liberation Sans, sans-serif" font-size="6.0" fill="#333" text-anchor="middle" font-weight="normal" stroke="#333" stroke-width="0.05" textLength="20.5" lengthAdjust="spacingAndGlyphs">PAA pH5</text>
<path d="M261.7,169.8 L284.0,169.8 L284.0,173 L285.5,174 L285.5,211 Q285.5,214.5 282.0,214.5 L263.7,214.5 Q260.2,214.5 260.2,211 L260.2,174 L261.7,173 Z" fill="#cfd1d1"/>
<linearGradient id="gl260" x1="0" y1="0" x2="0" y2="1"><stop offset="0" stop-color="#b49a6e"/><stop offset="0.18" stop-color="#b49a6e"/><stop offset="0.3" stop-color="#caae7a"/><stop offset="1" stop-color="#bc9c66"/></linearGradient>
<path d="M260.2,183 L285.5,183 L285.5,211 Q285.5,214.5 282.0,214.5 L263.7,214.5 Q260.2,214.5 260.2,211 Z" fill="url(#gl260)"/>
<path d="M261.7,169.8 L284.0,169.8 L284.0,173 L285.5,174 L285.5,211 Q285.5,214.5 282.0,214.5 L263.7,214.5 Q260.2,214.5 260.2,211 L260.2,174 L261.7,173 Z" fill="url(#gGlass)"/>
<rect x="261.4" y="170.6" width="22.9" height="3.6" fill="#bdbdb8"/>
<line x1="261.7" y1="172.4" x2="284.0" y2="172.4" stroke="#9a9a96" stroke-width="0.5"/>
<rect x="261.0" y="159" width="23.7" height="12" rx="1.6" fill="url(#gCapT)"/>
<line x1="263.0" y1="160" x2="263.0" y2="170" stroke="#000" stroke-opacity="0.022" stroke-width="0.7"/>
<line x1="264.9" y1="160" x2="264.9" y2="170" stroke="#000" stroke-opacity="0.022" stroke-width="0.7"/>
<line x1="266.9" y1="160" x2="266.9" y2="170" stroke="#000" stroke-opacity="0.022" stroke-width="0.7"/>
<line x1="268.9" y1="160" x2="268.9" y2="170" stroke="#000" stroke-opacity="0.022" stroke-width="0.7"/>
<line x1="270.9" y1="160" x2="270.9" y2="170" stroke="#000" stroke-opacity="0.022" stroke-width="0.7"/>
<line x1="272.9" y1="160" x2="272.9" y2="170" stroke="#000" stroke-opacity="0.022" stroke-width="0.7"/>
<line x1="274.8" y1="160" x2="274.8" y2="170" stroke="#000" stroke-opacity="0.022" stroke-width="0.7"/>
<line x1="276.8" y1="160" x2="276.8" y2="170" stroke="#000" stroke-opacity="0.022" stroke-width="0.7"/>
<line x1="278.8" y1="160" x2="278.8" y2="170" stroke="#000" stroke-opacity="0.022" stroke-width="0.7"/>
<line x1="280.8" y1="160" x2="280.8" y2="170" stroke="#000" stroke-opacity="0.022" stroke-width="0.7"/>
<line x1="282.7" y1="160" x2="282.7" y2="170" stroke="#000" stroke-opacity="0.022" stroke-width="0.7"/>
<rect x="261.00" y="169.60" width="23.70" height="1.40" fill="#e0e0e0" />
<rect x="260.20" y="174.50" width="25.30" height="8.90" fill="#f6f6f6" />
<text x="273.35" y="181.30" font-family="Liberation Sans, sans-serif" font-size="6.0" fill="#333" text-anchor="middle" font-weight="normal" stroke="#333" stroke-width="0.05" textLength="20.3" lengthAdjust="spacingAndGlyphs">PAA pH7</text>
<path d="M288.5,169.8 L310.7,169.8 L310.7,173 L312.2,174 L312.2,211 Q312.2,214.5 308.7,214.5 L290.5,214.5 Q287.0,214.5 287.0,211 L287.0,174 L288.5,173 Z" fill="#cfd1d1"/>
<linearGradient id="gl287" x1="0" y1="0" x2="0" y2="1"><stop offset="0" stop-color="#d0b888"/><stop offset="0.18" stop-color="#d0b888"/><stop offset="0.3" stop-color="#e0c68c"/><stop offset="1" stop-color="#d8ba7c"/></linearGradient>
<path d="M287.0,183 L312.2,183 L312.2,211 Q312.2,214.5 308.7,214.5 L290.5,214.5 Q287.0,214.5 287.0,211 Z" fill="url(#gl287)"/>
<path d="M288.5,169.8 L310.7,169.8 L310.7,173 L312.2,174 L312.2,211 Q312.2,214.5 308.7,214.5 L290.5,214.5 Q287.0,214.5 287.0,211 L287.0,174 L288.5,173 Z" fill="url(#gGlass)"/>
<rect x="288.2" y="170.6" width="22.8" height="3.6" fill="#bdbdb8"/>
<line x1="288.5" y1="172.4" x2="310.7" y2="172.4" stroke="#9a9a96" stroke-width="0.5"/>
<rect x="287.8" y="159" width="23.6" height="12" rx="1.6" fill="url(#gCapT)"/>
<line x1="289.8" y1="160" x2="289.8" y2="170" stroke="#000" stroke-opacity="0.022" stroke-width="0.7"/>
<line x1="291.7" y1="160" x2="291.7" y2="170" stroke="#000" stroke-opacity="0.022" stroke-width="0.7"/>
<line x1="293.7" y1="160" x2="293.7" y2="170" stroke="#000" stroke-opacity="0.022" stroke-width="0.7"/>
<line x1="295.7" y1="160" x2="295.7" y2="170" stroke="#000" stroke-opacity="0.022" stroke-width="0.7"/>
<line x1="297.6" y1="160" x2="297.6" y2="170" stroke="#000" stroke-opacity="0.022" stroke-width="0.7"/>
<line x1="299.6" y1="160" x2="299.6" y2="170" stroke="#000" stroke-opacity="0.022" stroke-width="0.7"/>
<line x1="301.6" y1="160" x2="301.6" y2="170" stroke="#000" stroke-opacity="0.022" stroke-width="0.7"/>
<line x1="303.5" y1="160" x2="303.5" y2="170" stroke="#000" stroke-opacity="0.022" stroke-width="0.7"/>
<line x1="305.5" y1="160" x2="305.5" y2="170" stroke="#000" stroke-opacity="0.022" stroke-width="0.7"/>
<line x1="307.5" y1="160" x2="307.5" y2="170" stroke="#000" stroke-opacity="0.022" stroke-width="0.7"/>
<line x1="309.4" y1="160" x2="309.4" y2="170" stroke="#000" stroke-opacity="0.022" stroke-width="0.7"/>
<rect x="287.80" y="169.60" width="23.60" height="1.40" fill="#e0e0e0" />
<rect x="287.00" y="174.50" width="25.20" height="8.90" fill="#f6f6f6" />
<text x="300.10" y="181.30" font-family="Liberation Sans, sans-serif" font-size="6.0" fill="#333" text-anchor="middle" font-weight="normal" stroke="#333" stroke-width="0.05" textLength="20.2" lengthAdjust="spacingAndGlyphs">PAA pH10</text>
<path d="M322.8,169.8 L345.9,169.8 L345.9,173 L347.4,174 L347.4,211 Q347.4,214.5 343.9,214.5 L324.8,214.5 Q321.3,214.5 321.3,211 L321.3,174 L322.8,173 Z" fill="#cfd1d1"/>
<linearGradient id="gl321" x1="0" y1="0" x2="0" y2="1"><stop offset="0" stop-color="#dcd8c0"/><stop offset="1" stop-color="#d4d0b8"/></linearGradient>
<path d="M321.3,182 L347.4,182 L347.4,211 Q347.4,214.5 343.9,214.5 L324.8,214.5 Q321.3,214.5 321.3,211 Z" fill="url(#gl321)"/>
<path d="M322.8,169.8 L345.9,169.8 L345.9,173 L347.4,174 L347.4,211 Q347.4,214.5 343.9,214.5 L324.8,214.5 Q321.3,214.5 321.3,211 L321.3,174 L322.8,173 Z" fill="url(#gGlass)"/>
<rect x="322.5" y="170.6" width="23.7" height="3.6" fill="#bdbdb8"/>
<line x1="322.8" y1="172.4" x2="345.9" y2="172.4" stroke="#9a9a96" stroke-width="0.5"/>
<rect x="322.1" y="159" width="24.5" height="12" rx="1.6" fill="url(#gCapT)"/>
<line x1="324.1" y1="160" x2="324.1" y2="170" stroke="#000" stroke-opacity="0.022" stroke-width="0.7"/>
<line x1="326.2" y1="160" x2="326.2" y2="170" stroke="#000" stroke-opacity="0.022" stroke-width="0.7"/>
<line x1="328.2" y1="160" x2="328.2" y2="170" stroke="#000" stroke-opacity="0.022" stroke-width="0.7"/>
<line x1="330.3" y1="160" x2="330.3" y2="170" stroke="#000" stroke-opacity="0.022" stroke-width="0.7"/>
<line x1="332.3" y1="160" x2="332.3" y2="170" stroke="#000" stroke-opacity="0.022" stroke-width="0.7"/>
<line x1="334.4" y1="160" x2="334.4" y2="170" stroke="#000" stroke-opacity="0.022" stroke-width="0.7"/>
<line x1="336.4" y1="160" x2="336.4" y2="170" stroke="#000" stroke-opacity="0.022" stroke-width="0.7"/>
<line x1="338.4" y1="160" x2="338.4" y2="170" stroke="#000" stroke-opacity="0.022" stroke-width="0.7"/>
<line x1="340.5" y1="160" x2="340.5" y2="170" stroke="#000" stroke-opacity="0.022" stroke-width="0.7"/>
<line x1="342.5" y1="160" x2="342.5" y2="170" stroke="#000" stroke-opacity="0.022" stroke-width="0.7"/>
<line x1="344.6" y1="160" x2="344.6" y2="170" stroke="#000" stroke-opacity="0.022" stroke-width="0.7"/>
<rect x="322.10" y="169.60" width="24.50" height="1.40" fill="#e0e0e0" />
<rect x="321.30" y="173.70" width="26.10" height="8.90" fill="#f6f6f6" />
<text x="334.85" y="180.50" font-family="Liberation Sans, sans-serif" font-size="6.0" fill="#333" text-anchor="middle" font-weight="normal" stroke="#333" stroke-width="0.05" textLength="21.1" lengthAdjust="spacingAndGlyphs">C/SBR pH3</text>
<path d="M349.3,169.8 L372.7,169.8 L372.7,173 L374.2,174 L374.2,211 Q374.2,214.5 370.7,214.5 L351.3,214.5 Q347.8,214.5 347.8,211 L347.8,174 L349.3,173 Z" fill="#cfd1d1"/>
<linearGradient id="gl347" x1="0" y1="0" x2="0" y2="1"><stop offset="0" stop-color="#8c765a"/><stop offset="0.18" stop-color="#8c765a"/><stop offset="0.3" stop-color="#a48c68"/><stop offset="1" stop-color="#ac9474"/></linearGradient>
<path d="M347.8,182 L374.2,182 L374.2,211 Q374.2,214.5 370.7,214.5 L351.3,214.5 Q347.8,214.5 347.8,211 Z" fill="url(#gl347)"/>
<path d="M349.3,169.8 L372.7,169.8 L372.7,173 L374.2,174 L374.2,211 Q374.2,214.5 370.7,214.5 L351.3,214.5 Q347.8,214.5 347.8,211 L347.8,174 L349.3,173 Z" fill="url(#gGlass)"/>
<rect x="349.0" y="170.6" width="24.0" height="3.6" fill="#bdbdb8"/>
<line x1="349.3" y1="172.4" x2="372.7" y2="172.4" stroke="#9a9a96" stroke-width="0.5"/>
<rect x="348.6" y="159" width="24.8" height="12" rx="1.6" fill="url(#gCapT)"/>
<line x1="350.7" y1="160" x2="350.7" y2="170" stroke="#000" stroke-opacity="0.022" stroke-width="0.7"/>
<line x1="352.7" y1="160" x2="352.7" y2="170" stroke="#000" stroke-opacity="0.022" stroke-width="0.7"/>
<line x1="354.8" y1="160" x2="354.8" y2="170" stroke="#000" stroke-opacity="0.022" stroke-width="0.7"/>
<line x1="356.9" y1="160" x2="356.9" y2="170" stroke="#000" stroke-opacity="0.022" stroke-width="0.7"/>
<line x1="358.9" y1="160" x2="358.9" y2="170" stroke="#000" stroke-opacity="0.022" stroke-width="0.7"/>
<line x1="361.0" y1="160" x2="361.0" y2="170" stroke="#000" stroke-opacity="0.022" stroke-width="0.7"/>
<line x1="363.1" y1="160" x2="363.1" y2="170" stroke="#000" stroke-opacity="0.022" stroke-width="0.7"/>
<line x1="365.1" y1="160" x2="365.1" y2="170" stroke="#000" stroke-opacity="0.022" stroke-width="0.7"/>
<line x1="367.2" y1="160" x2="367.2" y2="170" stroke="#000" stroke-opacity="0.022" stroke-width="0.7"/>
<line x1="369.3" y1="160" x2="369.3" y2="170" stroke="#000" stroke-opacity="0.022" stroke-width="0.7"/>
<line x1="371.3" y1="160" x2="371.3" y2="170" stroke="#000" stroke-opacity="0.022" stroke-width="0.7"/>
<rect x="348.60" y="169.60" width="24.80" height="1.40" fill="#e0e0e0" />
<rect x="347.80" y="173.70" width="26.40" height="8.90" fill="#f6f6f6" />
<text x="361.50" y="180.50" font-family="Liberation Sans, sans-serif" font-size="6.0" fill="#333" text-anchor="middle" font-weight="normal" stroke="#333" stroke-width="0.05" textLength="21.4" lengthAdjust="spacingAndGlyphs">C/SBR pH5</text>
<path d="M376.0,169.8 L399.3,169.8 L399.3,173 L400.8,174 L400.8,211 Q400.8,214.5 397.3,214.5 L378.0,214.5 Q374.5,214.5 374.5,211 L374.5,174 L376.0,173 Z" fill="#cfd1d1"/>
<linearGradient id="gl374" x1="0" y1="0" x2="0" y2="1"><stop offset="0" stop-color="#c6b28c"/><stop offset="1" stop-color="#ccb894"/></linearGradient>
<path d="M374.5,182 L400.8,182 L400.8,211 Q400.8,214.5 397.3,214.5 L378.0,214.5 Q374.5,214.5 374.5,211 Z" fill="url(#gl374)"/>
<path d="M376.0,169.8 L399.3,169.8 L399.3,173 L400.8,174 L400.8,211 Q400.8,214.5 397.3,214.5 L378.0,214.5 Q374.5,214.5 374.5,211 L374.5,174 L376.0,173 Z" fill="url(#gGlass)"/>
<rect x="375.7" y="170.6" width="23.9" height="3.6" fill="#bdbdb8"/>
<line x1="376.0" y1="172.4" x2="399.3" y2="172.4" stroke="#9a9a96" stroke-width="0.5"/>
<rect x="375.3" y="159" width="24.7" height="12" rx="1.6" fill="url(#gCapT)"/>
<line x1="377.4" y1="160" x2="377.4" y2="170" stroke="#000" stroke-opacity="0.022" stroke-width="0.7"/>
<line x1="379.4" y1="160" x2="379.4" y2="170" stroke="#000" stroke-opacity="0.022" stroke-width="0.7"/>
<line x1="381.5" y1="160" x2="381.5" y2="170" stroke="#000" stroke-opacity="0.022" stroke-width="0.7"/>
<line x1="383.5" y1="160" x2="383.5" y2="170" stroke="#000" stroke-opacity="0.022" stroke-width="0.7"/>
<line x1="385.6" y1="160" x2="385.6" y2="170" stroke="#000" stroke-opacity="0.022" stroke-width="0.7"/>
<line x1="387.7" y1="160" x2="387.7" y2="170" stroke="#000" stroke-opacity="0.022" stroke-width="0.7"/>
<line x1="389.7" y1="160" x2="389.7" y2="170" stroke="#000" stroke-opacity="0.022" stroke-width="0.7"/>
<line x1="391.8" y1="160" x2="391.8" y2="170" stroke="#000" stroke-opacity="0.022" stroke-width="0.7"/>
<line x1="393.8" y1="160" x2="393.8" y2="170" stroke="#000" stroke-opacity="0.022" stroke-width="0.7"/>
<line x1="395.9" y1="160" x2="395.9" y2="170" stroke="#000" stroke-opacity="0.022" stroke-width="0.7"/>
<line x1="397.9" y1="160" x2="397.9" y2="170" stroke="#000" stroke-opacity="0.022" stroke-width="0.7"/>
<rect x="375.30" y="169.60" width="24.70" height="1.40" fill="#e0e0e0" />
<rect x="374.50" y="173.70" width="26.30" height="8.90" fill="#f6f6f6" />
<text x="388.15" y="180.50" font-family="Liberation Sans, sans-serif" font-size="6.0" fill="#333" text-anchor="middle" font-weight="normal" stroke="#333" stroke-width="0.05" textLength="21.3" lengthAdjust="spacingAndGlyphs">C/SBR pH7</text>
<path d="M402.7,169.8 L426.1,169.8 L426.1,173 L427.6,174 L427.6,211 Q427.6,214.5 424.1,214.5 L404.7,214.5 Q401.2,214.5 401.2,211 L401.2,174 L402.7,173 Z" fill="#cfd1d1"/>
<linearGradient id="gl401" x1="0" y1="0" x2="0" y2="1"><stop offset="0" stop-color="#dccca8"/><stop offset="1" stop-color="#d6c6a0"/></linearGradient>
<path d="M401.2,182 L427.6,182 L427.6,211 Q427.6,214.5 424.1,214.5 L404.7,214.5 Q401.2,214.5 401.2,211 Z" fill="url(#gl401)"/>
<path d="M402.7,169.8 L426.1,169.8 L426.1,173 L427.6,174 L427.6,211 Q427.6,214.5 424.1,214.5 L404.7,214.5 Q401.2,214.5 401.2,211 L401.2,174 L402.7,173 Z" fill="url(#gGlass)"/>
<rect x="402.4" y="170.6" width="24.0" height="3.6" fill="#bdbdb8"/>
<line x1="402.7" y1="172.4" x2="426.1" y2="172.4" stroke="#9a9a96" stroke-width="0.5"/>
<rect x="402.0" y="159" width="24.8" height="12" rx="1.6" fill="url(#gCapT)"/>
<line x1="404.1" y1="160" x2="404.1" y2="170" stroke="#000" stroke-opacity="0.022" stroke-width="0.7"/>
<line x1="406.1" y1="160" x2="406.1" y2="170" stroke="#000" stroke-opacity="0.022" stroke-width="0.7"/>
<line x1="408.2" y1="160" x2="408.2" y2="170" stroke="#000" stroke-opacity="0.022" stroke-width="0.7"/>
<line x1="410.3" y1="160" x2="410.3" y2="170" stroke="#000" stroke-opacity="0.022" stroke-width="0.7"/>
<line x1="412.3" y1="160" x2="412.3" y2="170" stroke="#000" stroke-opacity="0.022" stroke-width="0.7"/>
<line x1="414.4" y1="160" x2="414.4" y2="170" stroke="#000" stroke-opacity="0.022" stroke-width="0.7"/>
<line x1="416.5" y1="160" x2="416.5" y2="170" stroke="#000" stroke-opacity="0.022" stroke-width="0.7"/>
<line x1="418.5" y1="160" x2="418.5" y2="170" stroke="#000" stroke-opacity="0.022" stroke-width="0.7"/>
<line x1="420.6" y1="160" x2="420.6" y2="170" stroke="#000" stroke-opacity="0.022" stroke-width="0.7"/>
<line x1="422.7" y1="160" x2="422.7" y2="170" stroke="#000" stroke-opacity="0.022" stroke-width="0.7"/>
<line x1="424.7" y1="160" x2="424.7" y2="170" stroke="#000" stroke-opacity="0.022" stroke-width="0.7"/>
<rect x="402.00" y="169.60" width="24.80" height="1.40" fill="#e0e0e0" />
<rect x="401.20" y="173.70" width="26.40" height="8.90" fill="#f6f6f6" />
<text x="414.90" y="180.50" font-family="Liberation Sans, sans-serif" font-size="6.0" fill="#333" text-anchor="middle" font-weight="normal" stroke="#333" stroke-width="0.05" textLength="21.4" lengthAdjust="spacingAndGlyphs">C/SBR pH10</text>
<path d="M438.1,169.8 L460.7,169.8 L460.7,173 L462.2,174 L462.2,211 Q462.2,214.5 458.7,214.5 L440.1,214.5 Q436.6,214.5 436.6,211 L436.6,174 L438.1,173 Z" fill="#cfd1d1"/>
<linearGradient id="gl436" x1="0" y1="0" x2="0" y2="1"><stop offset="0" stop-color="#d8dcdc"/><stop offset="1" stop-color="#cfd3d3"/></linearGradient>
<path d="M436.6,185 L462.2,185 L462.2,211 Q462.2,214.5 458.7,214.5 L440.1,214.5 Q436.6,214.5 436.6,211 Z" fill="url(#gl436)"/>
<rect x="438.6" y="203" width="21.6" height="3" fill="#fff" fill-opacity="0.3"/>
<path d="M438.1,169.8 L460.7,169.8 L460.7,173 L462.2,174 L462.2,211 Q462.2,214.5 458.7,214.5 L440.1,214.5 Q436.6,214.5 436.6,211 L436.6,174 L438.1,173 Z" fill="url(#gGlass)"/>
<rect x="437.8" y="170.6" width="23.2" height="3.6" fill="#bdbdb8"/>
<line x1="438.1" y1="172.4" x2="460.7" y2="172.4" stroke="#9a9a96" stroke-width="0.5"/>
<rect x="437.4" y="159" width="24.0" height="12" rx="1.6" fill="url(#gCapT)"/>
<line x1="439.4" y1="160" x2="439.4" y2="170" stroke="#000" stroke-opacity="0.022" stroke-width="0.7"/>
<line x1="441.4" y1="160" x2="441.4" y2="170" stroke="#000" stroke-opacity="0.022" stroke-width="0.7"/>
<line x1="443.4" y1="160" x2="443.4" y2="170" stroke="#000" stroke-opacity="0.022" stroke-width="0.7"/>
<line x1="445.4" y1="160" x2="445.4" y2="170" stroke="#000" stroke-opacity="0.022" stroke-width="0.7"/>
<line x1="447.4" y1="160" x2="447.4" y2="170" stroke="#000" stroke-opacity="0.022" stroke-width="0.7"/>
<line x1="449.4" y1="160" x2="449.4" y2="170" stroke="#000" stroke-opacity="0.022" stroke-width="0.7"/>
<line x1="451.4" y1="160" x2="451.4" y2="170" stroke="#000" stroke-opacity="0.022" stroke-width="0.7"/>
<line x1="453.4" y1="160" x2="453.4" y2="170" stroke="#000" stroke-opacity="0.022" stroke-width="0.7"/>
<line x1="455.4" y1="160" x2="455.4" y2="170" stroke="#000" stroke-opacity="0.022" stroke-width="0.7"/>
<line x1="457.4" y1="160" x2="457.4" y2="170" stroke="#000" stroke-opacity="0.022" stroke-width="0.7"/>
<line x1="459.4" y1="160" x2="459.4" y2="170" stroke="#000" stroke-opacity="0.022" stroke-width="0.7"/>
<rect x="437.40" y="169.60" width="24.00" height="1.40" fill="#e0e0e0" />
<rect x="436.60" y="176.50" width="25.60" height="8.90" fill="#f6f6f6" />
<text x="449.90" y="183.30" font-family="Liberation Sans, sans-serif" font-size="6.0" fill="#333" text-anchor="middle" font-weight="normal" stroke="#333" stroke-width="0.05" textLength="20.6" lengthAdjust="spacingAndGlyphs">itosan pH3</text>
<path d="M463.9,169.8 L486.5,169.8 L486.5,173 L488.0,174 L488.0,211 Q488.0,214.5 484.5,214.5 L465.9,214.5 Q462.4,214.5 462.4,211 L462.4,174 L463.9,173 Z" fill="#cfd1d1"/>
<linearGradient id="gl462" x1="0" y1="0" x2="0" y2="1"><stop offset="0" stop-color="#dcdcd4"/><stop offset="1" stop-color="#d4d4cc"/></linearGradient>
<path d="M462.4,185 L488.0,185 L488.0,211 Q488.0,214.5 484.5,214.5 L465.9,214.5 Q462.4,214.5 462.4,211 Z" fill="url(#gl462)"/>
<path d="M463.9,169.8 L486.5,169.8 L486.5,173 L488.0,174 L488.0,211 Q488.0,214.5 484.5,214.5 L465.9,214.5 Q462.4,214.5 462.4,211 L462.4,174 L463.9,173 Z" fill="url(#gGlass)"/>
<rect x="463.6" y="170.6" width="23.2" height="3.6" fill="#bdbdb8"/>
<line x1="463.9" y1="172.4" x2="486.5" y2="172.4" stroke="#9a9a96" stroke-width="0.5"/>
<rect x="463.2" y="159" width="24.0" height="12" rx="1.6" fill="url(#gCapT)"/>
<line x1="465.2" y1="160" x2="465.2" y2="170" stroke="#000" stroke-opacity="0.022" stroke-width="0.7"/>
<line x1="467.2" y1="160" x2="467.2" y2="170" stroke="#000" stroke-opacity="0.022" stroke-width="0.7"/>
<line x1="469.2" y1="160" x2="469.2" y2="170" stroke="#000" stroke-opacity="0.022" stroke-width="0.7"/>
<line x1="471.2" y1="160" x2="471.2" y2="170" stroke="#000" stroke-opacity="0.022" stroke-width="0.7"/>
<line x1="473.2" y1="160" x2="473.2" y2="170" stroke="#000" stroke-opacity="0.022" stroke-width="0.7"/>
<line x1="475.2" y1="160" x2="475.2" y2="170" stroke="#000" stroke-opacity="0.022" stroke-width="0.7"/>
<line x1="477.2" y1="160" x2="477.2" y2="170" stroke="#000" stroke-opacity="0.022" stroke-width="0.7"/>
<line x1="479.2" y1="160" x2="479.2" y2="170" stroke="#000" stroke-opacity="0.022" stroke-width="0.7"/>
<line x1="481.2" y1="160" x2="481.2" y2="170" stroke="#000" stroke-opacity="0.022" stroke-width="0.7"/>
<line x1="483.2" y1="160" x2="483.2" y2="170" stroke="#000" stroke-opacity="0.022" stroke-width="0.7"/>
<line x1="485.2" y1="160" x2="485.2" y2="170" stroke="#000" stroke-opacity="0.022" stroke-width="0.7"/>
<rect x="463.20" y="169.60" width="24.00" height="1.40" fill="#e0e0e0" />
<rect x="462.40" y="176.50" width="25.60" height="8.90" fill="#f6f6f6" />
<text x="475.70" y="183.30" font-family="Liberation Sans, sans-serif" font-size="6.0" fill="#333" text-anchor="middle" font-weight="normal" stroke="#333" stroke-width="0.05" textLength="20.6" lengthAdjust="spacingAndGlyphs">itosan pH5</text>
<path d="M489.7,169.8 L512.9,169.8 L512.9,173 L514.4,174 L514.4,211 Q514.4,214.5 510.9,214.5 L491.7,214.5 Q488.2,214.5 488.2,211 L488.2,174 L489.7,173 Z" fill="#cfd1d1"/>
<linearGradient id="gl488" x1="0" y1="0" x2="0" y2="1"><stop offset="0" stop-color="#dcd4a6"/><stop offset="1" stop-color="#d4ca98"/></linearGradient>
<path d="M488.2,185 L514.4,185 L514.4,211 Q514.4,214.5 510.9,214.5 L491.7,214.5 Q488.2,214.5 488.2,211 Z" fill="url(#gl488)"/>
<path d="M489.7,169.8 L512.9,169.8 L512.9,173 L514.4,174 L514.4,211 Q514.4,214.5 510.9,214.5 L491.7,214.5 Q488.2,214.5 488.2,211 L488.2,174 L489.7,173 Z" fill="url(#gGlass)"/>
<rect x="489.4" y="170.6" width="23.8" height="3.6" fill="#bdbdb8"/>
<line x1="489.7" y1="172.4" x2="512.9" y2="172.4" stroke="#9a9a96" stroke-width="0.5"/>
<rect x="489.0" y="159" width="24.6" height="12" rx="1.6" fill="url(#gCapT)"/>
<line x1="491.1" y1="160" x2="491.1" y2="170" stroke="#000" stroke-opacity="0.022" stroke-width="0.7"/>
<line x1="493.1" y1="160" x2="493.1" y2="170" stroke="#000" stroke-opacity="0.022" stroke-width="0.7"/>
<line x1="495.1" y1="160" x2="495.1" y2="170" stroke="#000" stroke-opacity="0.022" stroke-width="0.7"/>
<line x1="497.2" y1="160" x2="497.2" y2="170" stroke="#000" stroke-opacity="0.022" stroke-width="0.7"/>
<line x1="499.2" y1="160" x2="499.2" y2="170" stroke="#000" stroke-opacity="0.022" stroke-width="0.7"/>
<line x1="501.3" y1="160" x2="501.3" y2="170" stroke="#000" stroke-opacity="0.022" stroke-width="0.7"/>
<line x1="503.3" y1="160" x2="503.3" y2="170" stroke="#000" stroke-opacity="0.022" stroke-width="0.7"/>
<line x1="505.4" y1="160" x2="505.4" y2="170" stroke="#000" stroke-opacity="0.022" stroke-width="0.7"/>
<line x1="507.4" y1="160" x2="507.4" y2="170" stroke="#000" stroke-opacity="0.022" stroke-width="0.7"/>
<line x1="509.5" y1="160" x2="509.5" y2="170" stroke="#000" stroke-opacity="0.022" stroke-width="0.7"/>
<line x1="511.6" y1="160" x2="511.6" y2="170" stroke="#000" stroke-opacity="0.022" stroke-width="0.7"/>
<rect x="489.00" y="169.60" width="24.60" height="1.40" fill="#e0e0e0" />
<rect x="488.20" y="176.50" width="26.20" height="8.90" fill="#f6f6f6" />
<text x="501.80" y="183.30" font-family="Liberation Sans, sans-serif" font-size="6.0" fill="#333" text-anchor="middle" font-weight="normal" stroke="#333" stroke-width="0.05" textLength="21.2" lengthAdjust="spacingAndGlyphs">itosan pH7</text>
<path d="M516.1,169.8 L539.7,169.8 L539.7,173 L541.2,174 L541.2,211 Q541.2,214.5 537.7,214.5 L518.1,214.5 Q514.6,214.5 514.6,211 L514.6,174 L516.1,173 Z" fill="#cfd1d1"/>
<linearGradient id="gl514" x1="0" y1="0" x2="0" y2="1"><stop offset="0" stop-color="#dce0e4"/><stop offset="1" stop-color="#d2d6da"/></linearGradient>
<path d="M514.6,185 L541.2,185 L541.2,211 Q541.2,214.5 537.7,214.5 L518.1,214.5 Q514.6,214.5 514.6,211 Z" fill="url(#gl514)"/>
<rect x="516.6" y="205" width="22.6" height="3" fill="#fff" fill-opacity="0.3"/>
<path d="M516.1,169.8 L539.7,169.8 L539.7,173 L541.2,174 L541.2,211 Q541.2,214.5 537.7,214.5 L518.1,214.5 Q514.6,214.5 514.6,211 L514.6,174 L516.1,173 Z" fill="url(#gGlass)"/>
<rect x="515.8" y="170.6" width="24.2" height="3.6" fill="#bdbdb8"/>
<line x1="516.1" y1="172.4" x2="539.7" y2="172.4" stroke="#9a9a96" stroke-width="0.5"/>
<rect x="515.4" y="159" width="25.0" height="12" rx="1.6" fill="url(#gCapT)"/>
<line x1="517.5" y1="160" x2="517.5" y2="170" stroke="#000" stroke-opacity="0.022" stroke-width="0.7"/>
<line x1="519.6" y1="160" x2="519.6" y2="170" stroke="#000" stroke-opacity="0.022" stroke-width="0.7"/>
<line x1="521.6" y1="160" x2="521.6" y2="170" stroke="#000" stroke-opacity="0.022" stroke-width="0.7"/>
<line x1="523.7" y1="160" x2="523.7" y2="170" stroke="#000" stroke-opacity="0.022" stroke-width="0.7"/>
<line x1="525.8" y1="160" x2="525.8" y2="170" stroke="#000" stroke-opacity="0.022" stroke-width="0.7"/>
<line x1="527.9" y1="160" x2="527.9" y2="170" stroke="#000" stroke-opacity="0.022" stroke-width="0.7"/>
<line x1="530.0" y1="160" x2="530.0" y2="170" stroke="#000" stroke-opacity="0.022" stroke-width="0.7"/>
<line x1="532.1" y1="160" x2="532.1" y2="170" stroke="#000" stroke-opacity="0.022" stroke-width="0.7"/>
<line x1="534.1" y1="160" x2="534.1" y2="170" stroke="#000" stroke-opacity="0.022" stroke-width="0.7"/>
<line x1="536.2" y1="160" x2="536.2" y2="170" stroke="#000" stroke-opacity="0.022" stroke-width="0.7"/>
<line x1="538.3" y1="160" x2="538.3" y2="170" stroke="#000" stroke-opacity="0.022" stroke-width="0.7"/>
<rect x="515.40" y="169.60" width="25.00" height="1.40" fill="#e0e0e0" />
<rect x="514.60" y="176.50" width="26.60" height="8.90" fill="#f6f6f6" />
<text x="528.40" y="183.30" font-family="Liberation Sans, sans-serif" font-size="6.0" fill="#333" text-anchor="middle" font-weight="normal" stroke="#333" stroke-width="0.05" textLength="21.6" lengthAdjust="spacingAndGlyphs">itosan pH10</text>
<rect x="203.3" y="154.2" width="342.2" height="63.1" fill="none" stroke="#2f7fe0" stroke-width="1.4"/>
<rect x="204.50" y="221.00" width="340.70" height="62.00" fill="#ffffff" />
<rect x="205.00" y="221.20" width="111.00" height="61.40" fill="url(#gBgB)" />
<rect x="318.60" y="221.20" width="112.70" height="61.40" fill="url(#gBgB)" />
<rect x="432.40" y="221.20" width="112.00" height="61.40" fill="url(#gBgB)" />
<linearGradient id="gb205" x1="0" y1="0" x2="0" y2="1"><stop offset="0" stop-color="#d4d2c8"/><stop offset="1" stop-color="#c4b690"/></linearGradient>
<path d="M210.2,224 Q210.2,223 211.7,223 L225.9,223 Q227.4,223 227.4,224 L227.4,232 Q232.4,233 232.4,238 L232.4,278 Q232.4,281.5 228.4,281.5 L209.2,281.5 Q205.2,281.5 205.2,278 L205.2,238 Q205.2,233 210.2,232 Z" fill="url(#gb205)"/>
<clipPath id="cv205"><path d="M210.2,224 Q210.2,223 211.7,223 L225.9,223 Q227.4,223 227.4,224 L227.4,232 Q232.4,233 232.4,238 L232.4,278 Q232.4,281.5 228.4,281.5 L209.2,281.5 Q205.2,281.5 205.2,278 L205.2,238 Q205.2,233 210.2,232 Z"/></clipPath>
<g clip-path="url(#cv205)">
<rect x="210.20" y="222.00" width="17.20" height="10.50" fill="#d8d6cc" />
<path d="M204.2,252.0 C213.2,258.0 226.4,266.0 233.4,270.0 L233.4,283 L204.2,283 Z" fill="#bca878" fill-opacity="0.75"/>
<rect x="205.2" y="222" width="27.2" height="61" fill="url(#gGlass)"/>
<line x1="210.2" y1="226" x2="227.4" y2="226" stroke="#000" stroke-opacity="0.05" stroke-width="0.6"/>
<line x1="210.2" y1="229" x2="227.4" y2="229" stroke="#000" stroke-opacity="0.05" stroke-width="0.6"/>
</g>
<rect x="207.70" y="238.60" width="22.20" height="6.60" fill="#f6f6f6" />
<text x="218.80" y="243.50" font-family="Liberation Sans, sans-serif" font-size="4.4" fill="#484848" text-anchor="middle" font-weight="normal" letter-spacing="0.3" textLength="18.2" lengthAdjust="spacingAndGlyphs">PAA pH3</text>
<linearGradient id="gb233" x1="0" y1="0" x2="0" y2="1"><stop offset="0" stop-color="#dedede"/><stop offset="1" stop-color="#d6d6d4"/></linearGradient>
<path d="M238.6,224 Q238.6,223 240.1,223 L254.1,223 Q255.6,223 255.6,224 L255.6,232 Q260.6,233 260.6,238 L260.6,278 Q260.6,281.5 256.6,281.5 L237.6,281.5 Q233.6,281.5 233.6,278 L233.6,238 Q233.6,233 238.6,232 Z" fill="url(#gb233)"/>
<clipPath id="cv233"><path d="M238.6,224 Q238.6,223 240.1,223 L254.1,223 Q255.6,223 255.6,224 L255.6,232 Q260.6,233 260.6,238 L260.6,278 Q260.6,281.5 256.6,281.5 L237.6,281.5 Q233.6,281.5 233.6,278 L233.6,238 Q233.6,233 238.6,232 Z"/></clipPath>
<g clip-path="url(#cv233)">
<rect x="238.60" y="222.00" width="17.00" height="10.50" fill="#dcdcdc" />
<path d="M232.6,252.0 Q235.1,268.5 239.6,270.0 L239.6,283 L232.6,283 Z" fill="#c2a466"/>
<rect x="232.60" y="270.00" width="29.00" height="13.00" fill="#c2a466" />
<rect x="233.6" y="222" width="27.0" height="61" fill="url(#gGlass)"/>
<line x1="238.6" y1="226" x2="255.6" y2="226" stroke="#000" stroke-opacity="0.05" stroke-width="0.6"/>
<line x1="238.6" y1="229" x2="255.6" y2="229" stroke="#000" stroke-opacity="0.05" stroke-width="0.6"/>
</g>
<rect x="236.10" y="238.60" width="22.00" height="6.60" fill="#f6f6f6" />
<text x="247.10" y="243.50" font-family="Liberation Sans, sans-serif" font-size="4.4" fill="#484848" text-anchor="middle" font-weight="normal" letter-spacing="0.3" textLength="18.0" lengthAdjust="spacingAndGlyphs">PAA pH5</text>
<linearGradient id="gb260" x1="0" y1="0" x2="0" y2="1"><stop offset="0" stop-color="#dcdcdc"/><stop offset="1" stop-color="#d4d4d2"/></linearGradient>
<path d="M265.4,224 Q265.4,223 266.9,223 L280.8,223 Q282.3,223 282.3,224 L282.3,232 Q287.3,233 287.3,238 L287.3,278 Q287.3,281.5 283.3,281.5 L264.4,281.5 Q260.4,281.5 260.4,278 L260.4,238 Q260.4,233 265.4,232 Z" fill="url(#gb260)"/>
<clipPath id="cv260"><path d="M265.4,224 Q265.4,223 266.9,223 L280.8,223 Q282.3,223 282.3,224 L282.3,232 Q287.3,233 287.3,238 L287.3,278 Q287.3,281.5 283.3,281.5 L264.4,281.5 Q260.4,281.5 260.4,278 L260.4,238 Q260.4,233 265.4,232 Z"/></clipPath>
<g clip-path="url(#cv260)">
<rect x="265.40" y="222.00" width="16.90" height="10.50" fill="#dadada" />
<path d="M259.4,249.0 Q262.6,269.5 269.4,271.0 L269.4,283 L259.4,283 Z" fill="#bc9e64"/>
<rect x="259.40" y="271.00" width="28.90" height="12.00" fill="#bc9e64" />
<rect x="260.4" y="222" width="26.9" height="61" fill="url(#gGlass)"/>
<line x1="265.4" y1="226" x2="282.3" y2="226" stroke="#000" stroke-opacity="0.05" stroke-width="0.6"/>
<line x1="265.4" y1="229" x2="282.3" y2="229" stroke="#000" stroke-opacity="0.05" stroke-width="0.6"/>
</g>
<rect x="262.90" y="238.60" width="21.90" height="6.60" fill="#f6f6f6" />
<text x="273.85" y="243.50" font-family="Liberation Sans, sans-serif" font-size="4.4" fill="#484848" text-anchor="middle" font-weight="normal" letter-spacing="0.3" textLength="17.9" lengthAdjust="spacingAndGlyphs">PAA pH7</text>
<linearGradient id="gb287" x1="0" y1="0" x2="0" y2="1"><stop offset="0" stop-color="#dcdcdc"/><stop offset="1" stop-color="#d4d4d2"/></linearGradient>
<path d="M292.8,224 Q292.8,223 294.3,223 L306.9,223 Q308.4,223 308.4,224 L308.4,232 Q313.4,233 313.4,238 L313.4,278 Q313.4,281.5 309.4,281.5 L291.8,281.5 Q287.8,281.5 287.8,278 L287.8,238 Q287.8,233 292.8,232 Z" fill="url(#gb287)"/>
<clipPath id="cv287"><path d="M292.8,224 Q292.8,223 294.3,223 L306.9,223 Q308.4,223 308.4,224 L308.4,232 Q313.4,233 313.4,238 L313.4,278 Q313.4,281.5 309.4,281.5 L291.8,281.5 Q287.8,281.5 287.8,278 L287.8,238 Q287.8,233 292.8,232 Z"/></clipPath>
<g clip-path="url(#cv287)">
<rect x="292.80" y="222.00" width="15.60" height="10.50" fill="#dadada" />
<path d="M286.8,250.5 Q290.1,270.0 296.8,271.5 L296.8,283 L286.8,283 Z" fill="#bc9e64"/>
<rect x="286.80" y="271.50" width="27.60" height="11.50" fill="#bc9e64" />
<rect x="287.8" y="222" width="25.6" height="61" fill="url(#gGlass)"/>
<line x1="292.8" y1="226" x2="308.4" y2="226" stroke="#000" stroke-opacity="0.05" stroke-width="0.6"/>
<line x1="292.8" y1="229" x2="308.4" y2="229" stroke="#000" stroke-opacity="0.05" stroke-width="0.6"/>
</g>
<rect x="290.30" y="238.60" width="20.60" height="6.60" fill="#f6f6f6" />
<text x="300.60" y="243.50" font-family="Liberation Sans, sans-serif" font-size="4.4" fill="#484848" text-anchor="middle" font-weight="normal" letter-spacing="0.3" textLength="16.6" lengthAdjust="spacingAndGlyphs">PAA pH10</text>
<linearGradient id="gb320" x1="0" y1="0" x2="0" y2="1"><stop offset="0" stop-color="#cfc098"/><stop offset="1" stop-color="#c2ac7a"/></linearGradient>
<path d="M325.2,224 Q325.2,223 326.7,223 L341.1,223 Q342.6,223 342.6,224 L342.6,232 Q347.6,233 347.6,238 L347.6,278 Q347.6,281.5 343.6,281.5 L324.2,281.5 Q320.2,281.5 320.2,278 L320.2,238 Q320.2,233 325.2,232 Z" fill="url(#gb320)"/>
<clipPath id="cv320"><path d="M325.2,224 Q325.2,223 326.7,223 L341.1,223 Q342.6,223 342.6,224 L342.6,232 Q347.6,233 347.6,238 L347.6,278 Q347.6,281.5 343.6,281.5 L324.2,281.5 Q320.2,281.5 320.2,278 L320.2,238 Q320.2,233 325.2,232 Z"/></clipPath>
<g clip-path="url(#cv320)">
<rect x="325.20" y="222.00" width="17.40" height="10.50" fill="#d2c8ac" />
<rect x="320.2" y="222" width="27.4" height="61" fill="url(#gGlass)"/>
<line x1="325.2" y1="226" x2="342.6" y2="226" stroke="#000" stroke-opacity="0.05" stroke-width="0.6"/>
<line x1="325.2" y1="229" x2="342.6" y2="229" stroke="#000" stroke-opacity="0.05" stroke-width="0.6"/>
</g>
<rect x="322.70" y="238.60" width="22.40" height="6.60" fill="#f6f6f6" />
<text x="333.90" y="243.50" font-family="Liberation Sans, sans-serif" font-size="4.4" fill="#484848" text-anchor="middle" font-weight="normal" letter-spacing="0.3" textLength="18.4" lengthAdjust="spacingAndGlyphs">CMC/SBR pH3</text>
<linearGradient id="gb347" x1="0" y1="0" x2="0" y2="1"><stop offset="0" stop-color="#dedede"/><stop offset="1" stop-color="#d6d6d4"/></linearGradient>
<path d="M352.8,224 Q352.8,223 354.3,223 L368.0,223 Q369.5,223 369.5,224 L369.5,232 Q374.5,233 374.5,238 L374.5,278 Q374.5,281.5 370.5,281.5 L351.8,281.5 Q347.8,281.5 347.8,278 L347.8,238 Q347.8,233 352.8,232 Z" fill="url(#gb347)"/>
<clipPath id="cv347"><path d="M352.8,224 Q352.8,223 354.3,223 L368.0,223 Q369.5,223 369.5,224 L369.5,232 Q374.5,233 374.5,238 L374.5,278 Q374.5,281.5 370.5,281.5 L351.8,281.5 Q347.8,281.5 347.8,278 L347.8,238 Q347.8,233 352.8,232 Z"/></clipPath>
<g clip-path="url(#cv347)">
<rect x="352.80" y="222.00" width="16.70" height="10.50" fill="#dcdcdc" />
<path d="M346.8,256.0 Q350.3,267.5 357.8,269.0 L357.8,283 L346.8,283 Z" fill="#bc9e6a"/>
<rect x="346.80" y="269.00" width="28.70" height="14.00" fill="#bc9e6a" />
<rect x="347.8" y="222" width="26.7" height="61" fill="url(#gGlass)"/>
<line x1="352.8" y1="226" x2="369.5" y2="226" stroke="#000" stroke-opacity="0.05" stroke-width="0.6"/>
<line x1="352.8" y1="229" x2="369.5" y2="229" stroke="#000" stroke-opacity="0.05" stroke-width="0.6"/>
</g>
<rect x="350.30" y="238.60" width="21.70" height="6.60" fill="#f6f6f6" />
<text x="361.15" y="243.50" font-family="Liberation Sans, sans-serif" font-size="4.4" fill="#484848" text-anchor="middle" font-weight="normal" letter-spacing="0.3" textLength="17.7" lengthAdjust="spacingAndGlyphs">CMC/SBR pH5</text>
<linearGradient id="gb374" x1="0" y1="0" x2="0" y2="1"><stop offset="0" stop-color="#dcdcdc"/><stop offset="1" stop-color="#d4d4d2"/></linearGradient>
<path d="M379.5,224 Q379.5,223 381.0,223 L394.8,223 Q396.3,223 396.3,224 L396.3,232 Q401.3,233 401.3,238 L401.3,278 Q401.3,281.5 397.3,281.5 L378.5,281.5 Q374.5,281.5 374.5,278 L374.5,238 Q374.5,233 379.5,232 Z" fill="url(#gb374)"/>
<clipPath id="cv374"><path d="M379.5,224 Q379.5,223 381.0,223 L394.8,223 Q396.3,223 396.3,224 L396.3,232 Q401.3,233 401.3,238 L401.3,278 Q401.3,281.5 397.3,281.5 L378.5,281.5 Q374.5,281.5 374.5,278 L374.5,238 Q374.5,233 379.5,232 Z"/></clipPath>
<g clip-path="url(#cv374)">
<rect x="379.50" y="222.00" width="16.80" height="10.50" fill="#dadada" />
<path d="M373.5,253.4 Q377.5,271.0 386.5,272.5 L386.5,283 L373.5,283 Z" fill="#bc9e6a"/>
<rect x="373.50" y="272.50" width="28.80" height="10.50" fill="#bc9e6a" />
<rect x="374.5" y="222" width="26.8" height="61" fill="url(#gGlass)"/>
<line x1="379.5" y1="226" x2="396.3" y2="226" stroke="#000" stroke-opacity="0.05" stroke-width="0.6"/>
<line x1="379.5" y1="229" x2="396.3" y2="229" stroke="#000" stroke-opacity="0.05" stroke-width="0.6"/>
</g>
<rect x="377.00" y="238.60" width="21.80" height="6.60" fill="#f6f6f6" />
<text x="387.90" y="243.50" font-family="Liberation Sans, sans-serif" font-size="4.4" fill="#484848" text-anchor="middle" font-weight="normal" letter-spacing="0.3" textLength="17.8" lengthAdjust="spacingAndGlyphs">CMC/SBR pH7</text>
<linearGradient id="gb401" x1="0" y1="0" x2="0" y2="1"><stop offset="0" stop-color="#dcdcdc"/><stop offset="1" stop-color="#d4d4d2"/></linearGradient>
<path d="M406.5,224 Q406.5,223 408.0,223 L422.0,223 Q423.5,223 423.5,224 L423.5,232 Q428.5,233 428.5,238 L428.5,278 Q428.5,281.5 424.5,281.5 L405.5,281.5 Q401.5,281.5 401.5,278 L401.5,238 Q401.5,233 406.5,232 Z" fill="url(#gb401)"/>
<clipPath id="cv401"><path d="M406.5,224 Q406.5,223 408.0,223 L422.0,223 Q423.5,223 423.5,224 L423.5,232 Q428.5,233 428.5,238 L428.5,278 Q428.5,281.5 424.5,281.5 L405.5,281.5 Q401.5,281.5 401.5,278 L401.5,238 Q401.5,233 406.5,232 Z"/></clipPath>
<g clip-path="url(#cv401)">
<rect x="406.50" y="222.00" width="17.00" height="10.50" fill="#dadada" />
<path d="M400.5,257.0 Q404.2,271.0 412.5,272.5 L412.5,283 L400.5,283 Z" fill="#bc9e6a"/>
<rect x="400.50" y="272.50" width="29.00" height="10.50" fill="#bc9e6a" />
<rect x="401.5" y="222" width="27.0" height="61" fill="url(#gGlass)"/>
<line x1="406.5" y1="226" x2="423.5" y2="226" stroke="#000" stroke-opacity="0.05" stroke-width="0.6"/>
<line x1="406.5" y1="229" x2="423.5" y2="229" stroke="#000" stroke-opacity="0.05" stroke-width="0.6"/>
</g>
<rect x="404.00" y="238.60" width="22.00" height="6.60" fill="#f6f6f6" />
<text x="415.00" y="243.50" font-family="Liberation Sans, sans-serif" font-size="4.4" fill="#484848" text-anchor="middle" font-weight="normal" letter-spacing="0.3" textLength="18.0" lengthAdjust="spacingAndGlyphs">CMC/SBR pH10</text>
<linearGradient id="gb433" x1="0" y1="0" x2="0" y2="1"><stop offset="0" stop-color="#dcdcd8"/><stop offset="1" stop-color="#d2d0c8"/></linearGradient>
<path d="M438.6,224 Q438.6,223 440.1,223 L454.1,223 Q455.6,223 455.6,224 L455.6,232 Q460.6,233 460.6,238 L460.6,278 Q460.6,281.5 456.6,281.5 L437.6,281.5 Q433.6,281.5 433.6,278 L433.6,238 Q433.6,233 438.6,232 Z" fill="url(#gb433)"/>
<clipPath id="cv433"><path d="M438.6,224 Q438.6,223 440.1,223 L454.1,223 Q455.6,223 455.6,224 L455.6,232 Q460.6,233 460.6,238 L460.6,278 Q460.6,281.5 456.6,281.5 L437.6,281.5 Q433.6,281.5 433.6,278 L433.6,238 Q433.6,233 438.6,232 Z"/></clipPath>
<g clip-path="url(#cv433)">
<rect x="438.60" y="222.00" width="17.00" height="10.50" fill="#dededc" />
<path d="M432.6,255.0 Q437.9,277.5 450.6,279.0 L450.6,283 L432.6,283 Z" fill="#c4ac7c"/>
<rect x="432.60" y="279.00" width="29.00" height="4.00" fill="#c4ac7c" />
<rect x="433.6" y="222" width="27.0" height="61" fill="url(#gGlass)"/>
<line x1="438.6" y1="226" x2="455.6" y2="226" stroke="#000" stroke-opacity="0.05" stroke-width="0.6"/>
<line x1="438.6" y1="229" x2="455.6" y2="229" stroke="#000" stroke-opacity="0.05" stroke-width="0.6"/>
</g>
<rect x="436.10" y="238.60" width="22.00" height="6.60" fill="#f6f6f6" />
<text x="447.10" y="243.50" font-family="Liberation Sans, sans-serif" font-size="4.4" fill="#484848" text-anchor="middle" font-weight="normal" letter-spacing="0.3" textLength="18.0" lengthAdjust="spacingAndGlyphs">Chitosan pH3</text>
<linearGradient id="gb460" x1="0" y1="0" x2="0" y2="1"><stop offset="0" stop-color="#ccc4ae"/><stop offset="1" stop-color="#bcb298"/></linearGradient>
<path d="M465.8,224 Q465.8,223 467.3,223 L481.2,223 Q482.7,223 482.7,224 L482.7,232 Q487.7,233 487.7,238 L487.7,278 Q487.7,281.5 483.7,281.5 L464.8,281.5 Q460.8,281.5 460.8,278 L460.8,238 Q460.8,233 465.8,232 Z" fill="url(#gb460)"/>
<clipPath id="cv460"><path d="M465.8,224 Q465.8,223 467.3,223 L481.2,223 Q482.7,223 482.7,224 L482.7,232 Q487.7,233 487.7,238 L487.7,278 Q487.7,281.5 483.7,281.5 L464.8,281.5 Q460.8,281.5 460.8,278 L460.8,238 Q460.8,233 465.8,232 Z"/></clipPath>
<g clip-path="url(#cv460)">
<rect x="465.80" y="222.00" width="16.90" height="10.50" fill="#d2cab6" />
<path d="M459.8,261.0 C464.8,269.0 468.8,278.0 474.8,283 L459.8,283 Z" fill="#b0a07c"/>
<rect x="460.8" y="222" width="26.9" height="61" fill="url(#gGlass)"/>
<line x1="465.8" y1="226" x2="482.7" y2="226" stroke="#000" stroke-opacity="0.05" stroke-width="0.6"/>
<line x1="465.8" y1="229" x2="482.7" y2="229" stroke="#000" stroke-opacity="0.05" stroke-width="0.6"/>
</g>
<rect x="463.30" y="238.60" width="21.90" height="6.60" fill="#f6f6f6" />
<text x="474.25" y="243.50" font-family="Liberation Sans, sans-serif" font-size="4.4" fill="#484848" text-anchor="middle" font-weight="normal" letter-spacing="0.3" textLength="17.9" lengthAdjust="spacingAndGlyphs">Chitosan pH5</text>
<linearGradient id="gb487" x1="0" y1="0" x2="0" y2="1"><stop offset="0" stop-color="#c8ba9a"/><stop offset="1" stop-color="#b8a884"/></linearGradient>
<path d="M492.9,224 Q492.9,223 494.4,223 L508.3,223 Q509.8,223 509.8,224 L509.8,232 Q514.8,233 514.8,238 L514.8,278 Q514.8,281.5 510.8,281.5 L491.9,281.5 Q487.9,281.5 487.9,278 L487.9,238 Q487.9,233 492.9,232 Z" fill="url(#gb487)"/>
<clipPath id="cv487"><path d="M492.9,224 Q492.9,223 494.4,223 L508.3,223 Q509.8,223 509.8,224 L509.8,232 Q514.8,233 514.8,238 L514.8,278 Q514.8,281.5 510.8,281.5 L491.9,281.5 Q487.9,281.5 487.9,278 L487.9,238 Q487.9,233 492.9,232 Z"/></clipPath>
<g clip-path="url(#cv487)">
<rect x="492.90" y="222.00" width="16.90" height="10.50" fill="#cec2a6" />
<path d="M486.9,257.0 C491.9,265.0 497.9,278.0 503.9,283 L486.9,283 Z" fill="#a89470"/>
<rect x="487.9" y="222" width="26.9" height="61" fill="url(#gGlass)"/>
<line x1="492.9" y1="226" x2="509.8" y2="226" stroke="#000" stroke-opacity="0.05" stroke-width="0.6"/>
<line x1="492.9" y1="229" x2="509.8" y2="229" stroke="#000" stroke-opacity="0.05" stroke-width="0.6"/>
</g>
<rect x="490.40" y="238.60" width="21.90" height="6.60" fill="#f6f6f6" />
<text x="501.35" y="243.50" font-family="Liberation Sans, sans-serif" font-size="4.4" fill="#484848" text-anchor="middle" font-weight="normal" letter-spacing="0.3" textLength="17.9" lengthAdjust="spacingAndGlyphs">Chitosan pH7</text>
<linearGradient id="gb515" x1="0" y1="0" x2="0" y2="1"><stop offset="0" stop-color="#d4d2cc"/><stop offset="1" stop-color="#c8c6be"/></linearGradient>
<path d="M520.0,224 Q520.0,223 521.5,223 L534.5,223 Q536.0,223 536.0,224 L536.0,232 Q541.0,233 541.0,238 L541.0,278 Q541.0,281.5 537.0,281.5 L519.0,281.5 Q515.0,281.5 515.0,278 L515.0,238 Q515.0,233 520.0,232 Z" fill="url(#gb515)"/>
<clipPath id="cv515"><path d="M520.0,224 Q520.0,223 521.5,223 L534.5,223 Q536.0,223 536.0,224 L536.0,232 Q541.0,233 541.0,238 L541.0,278 Q541.0,281.5 537.0,281.5 L519.0,281.5 Q515.0,281.5 515.0,278 L515.0,238 Q515.0,233 520.0,232 Z"/></clipPath>
<g clip-path="url(#cv515)">
<rect x="520.00" y="222.00" width="16.00" height="10.50" fill="#d8d6d2" />
<path d="M514.0,262.0 C519.0,270.0 521.0,278.0 527.0,283 L514.0,283 Z" fill="#bcb4a0"/>
<rect x="515.0" y="222" width="26.0" height="61" fill="url(#gGlass)"/>
<line x1="520.0" y1="226" x2="536.0" y2="226" stroke="#000" stroke-opacity="0.05" stroke-width="0.6"/>
<line x1="520.0" y1="229" x2="536.0" y2="229" stroke="#000" stroke-opacity="0.05" stroke-width="0.6"/>
</g>
<rect x="517.50" y="238.60" width="21.00" height="6.60" fill="#f6f6f6" />
<text x="528.00" y="243.50" font-family="Liberation Sans, sans-serif" font-size="4.4" fill="#484848" text-anchor="middle" font-weight="normal" letter-spacing="0.3" textLength="17.0" lengthAdjust="spacingAndGlyphs">Chitosan pH10</text>
<rect x="203.3" y="220.4" width="342.2" height="62.8" fill="none" stroke="#f6c23c" stroke-width="1.4"/>
</svg></body></html>
